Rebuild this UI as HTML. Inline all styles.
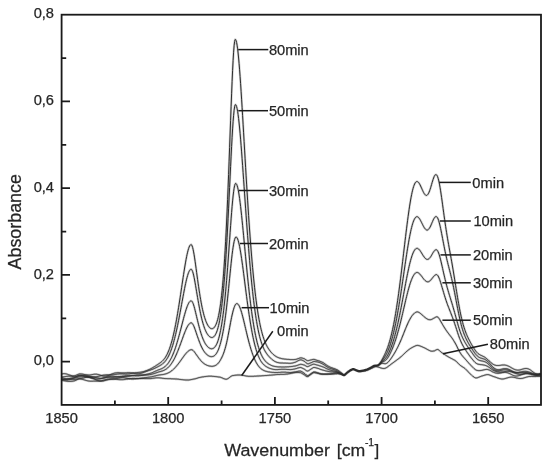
<!DOCTYPE html>
<html><head><meta charset="utf-8"><title>FTIR absorbance spectra</title>
<style>html,body{margin:0;padding:0;background:#fff}body{width:550px;height:468px;overflow:hidden}svg{display:block}</style>
</head><body>
<svg width="550" height="468" viewBox="0 0 550 468">
<rect width="550" height="468" fill="#fff"/>
<g>
<defs>
<path id="c0" d="M61.6,379.1 L62.1,379.2 L62.6,379.3 L63.1,379.5 L63.6,379.6 L64.1,379.7 L64.6,379.7 L65.1,379.8 L65.6,379.8 L66.1,379.8 L66.6,379.8 L67.1,379.8 L67.6,379.8 L68.1,379.7 L68.6,379.7 L69.1,379.6 L69.6,379.6 L70.1,379.6 L70.6,379.5 L71.1,379.5 L71.6,379.5 L72.1,379.4 L72.6,379.4 L73.1,379.4 L73.6,379.4 L74.1,379.5 L74.6,379.4 L75.1,379.4 L75.6,379.3 L76.1,379.3 L76.6,379.1 L77.1,379.0 L77.6,378.9 L78.1,378.8 L78.6,378.7 L79.1,378.6 L79.6,378.6 L80.1,378.5 L80.6,378.5 L81.1,378.4 L81.6,378.4 L82.1,378.3 L82.6,378.2 L83.1,378.1 L83.6,378.0 L84.1,377.8 L84.6,377.7 L85.1,377.6 L85.6,377.5 L86.1,377.4 L86.6,377.3 L87.1,377.3 L87.6,377.2 L88.1,377.2 L88.6,377.2 L89.1,377.3 L89.6,377.3 L90.1,377.4 L90.6,377.6 L91.1,377.7 L91.6,377.9 L92.1,378.0 L92.6,378.2 L93.1,378.4 L93.6,378.7 L94.1,378.9 L94.6,379.1 L95.1,379.4 L95.6,379.6 L96.1,379.8 L96.6,380.1 L97.1,380.2 L97.6,380.4 L98.1,380.5 L98.6,380.7 L99.1,380.7 L99.6,380.8 L100.1,380.8 L100.6,380.8 L101.1,380.8 L101.6,380.7 L102.1,380.6 L102.6,380.5 L103.1,380.4 L103.6,380.2 L104.1,380.1 L104.6,379.9 L105.1,379.8 L105.6,379.6 L106.1,379.5 L106.6,379.4 L107.1,379.3 L107.6,379.2 L108.1,379.2 L108.6,379.1 L109.1,379.1 L109.6,379.1 L110.1,379.1 L110.6,379.1 L111.1,379.1 L111.6,379.1 L112.1,379.1 L112.6,379.1 L113.1,379.1 L113.6,379.0 L114.1,379.0 L114.6,378.9 L115.1,378.9 L115.6,378.8 L116.1,378.7 L116.6,378.6 L117.1,378.5 L117.6,378.4 L118.1,378.3 L118.6,378.2 L119.1,378.1 L119.6,378.0 L120.1,377.9 L120.6,377.8 L121.1,377.8 L121.6,377.7 L122.1,377.7 L122.6,377.7 L123.1,377.7 L123.6,377.7 L124.1,377.8 L124.6,377.8 L125.1,377.9 L125.6,378.0 L126.1,378.1 L126.6,378.2 L127.1,378.3 L127.6,378.4 L128.1,378.5 L128.6,378.6 L129.1,378.7 L129.6,378.8 L130.1,378.8 L130.6,378.9 L131.1,378.9 L131.6,379.0 L132.1,379.0 L132.6,379.0 L133.1,379.0 L133.6,379.0 L134.1,378.9 L134.6,378.9 L135.1,378.9 L135.6,378.8 L136.1,378.8 L136.6,378.7 L137.1,378.7 L137.6,378.7 L138.1,378.6 L138.6,378.6 L139.1,378.6 L139.6,378.5 L140.1,378.5 L140.6,378.5 L141.1,378.5 L141.6,378.5 L142.1,378.5 L142.6,378.5 L143.1,378.5 L143.6,378.5 L144.1,378.5 L144.6,378.6 L145.1,378.6 L145.6,378.6 L146.1,378.6 L146.6,378.6 L147.1,378.6 L147.6,378.6 L148.1,378.6 L148.6,378.6 L149.1,378.6 L149.6,378.6 L150.1,378.6 L150.6,378.6 L151.1,378.5 L151.6,378.5 L152.1,378.4 L152.6,378.3 L153.1,378.3 L153.6,378.2 L154.1,378.1 L154.6,378.1 L155.1,378.0 L155.6,377.9 L156.1,377.9 L156.6,377.8 L157.1,377.8 L157.6,377.8 L158.1,377.8 L158.6,377.8 L159.1,377.8 L159.6,377.9 L160.1,377.9 L160.6,378.0 L161.1,378.1 L161.6,378.1 L162.1,378.2 L162.6,378.3 L163.1,378.3 L163.6,378.4 L164.1,378.5 L164.6,378.5 L165.1,378.5 L165.6,378.6 L166.1,378.6 L166.6,378.6 L167.1,378.6 L167.6,378.7 L168.1,378.7 L168.6,378.7 L169.1,378.7 L169.6,378.7 L170.1,378.7 L170.6,378.7 L171.1,378.8 L171.6,378.8 L172.1,378.8 L172.6,378.8 L173.1,378.8 L173.6,378.9 L174.1,378.9 L174.6,378.9 L175.1,378.9 L175.6,379.0 L176.1,379.0 L176.6,379.0 L177.1,379.1 L177.6,379.1 L178.1,379.2 L178.6,379.2 L179.1,379.3 L179.6,379.4 L180.1,379.4 L180.6,379.5 L181.1,379.6 L181.6,379.6 L182.1,379.7 L182.6,379.7 L183.1,379.8 L183.6,379.8 L184.1,379.9 L184.6,379.9 L185.1,379.9 L185.6,380.0 L186.1,380.0 L186.6,380.0 L187.1,380.0 L187.6,380.0 L188.1,380.0 L188.6,380.0 L189.1,379.9 L189.6,379.9 L190.1,379.8 L190.6,379.7 L191.1,379.6 L191.6,379.5 L192.1,379.4 L192.6,379.3 L193.1,379.2 L193.6,379.1 L194.1,379.0 L194.6,378.9 L195.1,378.8 L195.6,378.7 L196.1,378.5 L196.6,378.4 L197.1,378.2 L197.6,378.1 L198.1,377.9 L198.6,377.7 L199.1,377.6 L199.6,377.5 L200.1,377.4 L200.6,377.3 L201.1,377.2 L201.6,377.1 L202.1,377.0 L202.6,376.9 L203.1,376.9 L203.6,376.8 L204.1,376.7 L204.6,376.6 L205.1,376.6 L205.6,376.5 L206.1,376.4 L206.6,376.4 L207.1,376.3 L207.6,376.3 L208.1,376.3 L208.6,376.2 L209.1,376.2 L209.6,376.2 L210.1,376.2 L210.6,376.2 L211.1,376.2 L211.6,376.2 L212.1,376.3 L212.6,376.3 L213.1,376.3 L213.6,376.4 L214.1,376.4 L214.6,376.5 L215.1,376.5 L215.6,376.6 L216.1,376.6 L216.6,376.7 L217.1,376.8 L217.6,376.8 L218.1,376.9 L218.6,377.0 L219.1,377.0 L219.6,377.1 L220.1,377.2 L220.6,377.3 L221.1,377.5 L221.6,377.7 L222.1,377.9 L222.6,378.1 L223.1,378.4 L223.6,378.6 L224.1,378.8 L224.6,378.9 L225.1,379.1 L225.6,379.2 L226.1,379.2 L226.6,379.2 L227.1,379.0 L227.6,378.8 L228.1,378.5 L228.6,378.2 L229.1,377.8 L229.6,377.4 L230.1,377.0 L230.6,376.6 L231.1,376.3 L231.6,376.0 L232.1,375.8 L232.6,375.6 L233.1,375.5 L233.6,375.5 L234.1,375.4 L234.6,375.3 L235.1,375.3 L235.6,375.2 L236.1,375.2 L236.6,375.1 L237.1,375.1 L237.6,375.0 L238.1,375.0 L238.6,375.0 L239.1,375.0 L239.6,375.0 L240.1,375.0 L240.6,375.1 L241.1,375.1 L241.6,375.2 L242.1,375.3 L242.6,375.3 L243.1,375.4 L243.6,375.5 L244.1,375.6 L244.6,375.7 L245.1,375.8 L245.6,375.9 L246.1,376.0 L246.6,376.1 L247.1,376.2 L247.6,376.2 L248.1,376.3 L248.6,376.3 L249.1,376.3 L249.6,376.3 L250.1,376.3 L250.6,376.3 L251.1,376.3 L251.6,376.3 L252.1,376.3 L252.6,376.3 L253.1,376.3 L253.6,376.3 L254.1,376.2 L254.6,376.2 L255.1,376.2 L255.6,376.2 L256.1,376.1 L256.6,376.1 L257.1,376.1 L257.6,376.0 L258.1,376.0 L258.6,376.0 L259.1,376.0 L259.6,375.9 L260.1,375.9 L260.6,375.9 L261.1,375.8 L261.6,375.8 L262.1,375.8 L262.6,375.7 L263.1,375.7 L263.6,375.7 L264.1,375.6 L264.6,375.6 L265.1,375.6 L265.6,375.5 L266.1,375.5 L266.6,375.5 L267.1,375.4 L267.6,375.4 L268.1,375.4 L268.6,375.3 L269.1,375.3 L269.6,375.2 L270.1,375.2 L270.6,375.2 L271.1,375.1 L271.6,375.1 L272.1,375.0 L272.6,375.0 L273.1,374.9 L273.6,374.9 L274.1,374.8 L274.6,374.8 L275.1,374.7 L275.6,374.7 L276.1,374.6 L276.6,374.6 L277.1,374.6 L277.6,374.5 L278.1,374.5 L278.6,374.5 L279.1,374.5 L279.6,374.5 L280.1,374.4 L280.6,374.4 L281.1,374.4 L281.6,374.4 L282.1,374.4 L282.6,374.4 L283.1,374.4 L283.6,374.4 L284.1,374.3 L284.6,374.3 L285.1,374.3 L285.6,374.2 L286.1,374.2 L286.6,374.1 L287.1,374.1 L287.6,374.0 L288.1,373.9 L288.6,373.8 L289.1,373.7 L289.6,373.7 L290.1,373.6 L290.6,373.5 L291.1,373.4 L291.6,373.2 L292.1,373.1 L292.6,373.0 L293.1,372.9 L293.6,372.8 L294.1,372.7 L294.6,372.7 L295.1,372.6 L295.6,372.6 L296.1,372.6 L296.6,372.5 L297.1,372.5 L297.6,372.5 L298.1,372.5 L298.6,372.5 L299.1,372.5 L299.6,372.6 L300.1,372.6 L300.6,372.7 L301.1,372.9 L301.6,373.2 L302.1,373.5 L302.6,373.8 L303.1,374.1 L303.6,374.4 L304.1,374.7 L304.6,375.0 L305.1,375.4 L305.6,375.8 L306.1,376.2 L306.6,376.5 L307.1,376.6 L307.6,376.6 L308.1,376.5 L308.6,376.2 L309.1,375.8 L309.6,375.4 L310.1,375.0 L310.6,374.6 L311.1,374.3 L311.6,373.9 L312.1,373.5 L312.6,373.2 L313.1,372.9 L313.6,372.7 L314.1,372.6 L314.6,372.7 L315.1,372.8 L315.6,372.9 L316.1,373.0 L316.6,373.1 L317.1,373.3 L317.6,373.4 L318.1,373.5 L318.6,373.6 L319.1,373.7 L319.6,373.9 L320.1,374.0 L320.6,374.1 L321.1,374.2 L321.6,374.2 L322.1,374.2 L322.6,374.2 L323.1,374.2 L323.6,374.2 L324.1,374.2 L324.6,374.2 L325.1,374.2 L325.6,374.2 L326.1,374.2 L326.6,374.2 L327.1,374.2 L327.6,374.2 L328.1,374.2 L328.6,374.2 L329.1,374.2 L329.6,374.2 L330.1,374.2 L330.6,374.2 L331.1,374.2 L331.6,374.2 L332.1,374.1 L332.6,374.1 L333.1,374.1 L333.6,374.0 L334.1,374.0 L334.6,373.9 L335.1,373.9 L335.6,373.8 L336.1,373.8 L336.6,373.8 L337.1,373.7 L337.6,373.7 L338.1,373.8 L338.6,373.8 L339.1,373.9 L339.6,374.0 L340.1,374.1 L340.6,374.2 L341.1,374.2 L341.6,374.4 L342.1,374.6 L342.6,374.8 L343.1,375.0 L343.6,375.1 L344.1,375.2 L344.6,375.0 L345.1,374.6 L345.6,374.1 L346.1,373.7 L346.6,373.2 L347.1,372.8 L347.6,372.3 L348.1,371.9 L348.6,371.5 L349.1,371.1 L349.6,370.8 L350.1,370.5 L350.6,370.2 L351.1,369.9 L351.6,369.7 L352.1,369.5 L352.6,369.3 L353.1,369.2 L353.6,369.2 L354.1,369.3 L354.6,369.5 L355.1,369.7 L355.6,370.0 L356.1,370.2 L356.6,370.4 L357.1,370.6 L357.6,370.8 L358.1,371.0 L358.6,371.1 L359.1,371.2 L359.6,371.2 L360.1,371.2 L360.6,371.1 L361.1,371.0 L361.6,370.9 L362.1,370.8 L362.6,370.7 L363.1,370.6 L363.6,370.5 L364.1,370.4 L364.6,370.2 L365.1,370.1 L365.6,370.0 L366.1,369.8 L366.6,369.7 L367.1,369.5 L367.6,369.3 L368.1,369.1 L368.6,368.8 L369.1,368.6 L369.6,368.3 L370.1,368.1 L370.6,367.8 L371.1,367.6 L371.6,367.3 L372.1,366.9 L372.6,366.6 L373.1,366.3 L373.6,366.0 L374.1,365.8 L374.6,365.7 L375.1,365.7 L375.6,365.6 L376.1,365.6 L376.6,365.5 L377.1,365.5 L377.6,365.3 L378.1,365.1 L378.6,364.7 L379.1,364.2 L379.6,363.6 L380.1,363.0 L380.6,362.2 L381.1,361.4 L381.6,360.5 L382.1,359.6 L382.6,358.6 L383.1,357.7 L383.6,356.7 L384.1,355.7 L384.6,354.7 L385.1,353.6 L385.6,352.5 L386.1,351.3 L386.6,350.1 L387.1,348.8 L387.6,347.5 L388.1,346.1 L388.6,344.6 L389.1,343.0 L389.6,341.3 L390.1,339.6 L390.6,337.7 L391.1,335.8 L391.6,333.8 L392.1,331.6 L392.6,329.4 L393.1,327.0 L393.6,324.6 L394.1,322.0 L394.6,319.3 L395.1,316.5 L395.6,313.5 L396.1,310.5 L396.6,307.3 L397.1,304.0 L397.6,300.7 L398.1,297.2 L398.6,293.6 L399.1,289.9 L399.6,286.1 L400.1,282.2 L400.6,278.2 L401.1,274.2 L401.6,270.1 L402.1,265.9 L402.6,261.7 L403.1,257.5 L403.6,253.2 L404.1,249.0 L404.6,244.8 L405.1,240.5 L405.6,236.4 L406.1,232.2 L406.6,228.2 L407.1,224.2 L407.6,220.3 L408.1,216.6 L408.6,213.0 L409.1,209.5 L409.6,206.1 L410.1,203.0 L410.6,200.0 L411.1,197.2 L411.6,194.7 L412.1,192.3 L412.6,190.2 L413.1,188.3 L413.6,186.6 L414.1,185.2 L414.6,184.0 L415.1,183.0 L415.6,182.3 L416.1,181.8 L416.6,181.6 L417.1,181.5 L417.6,181.7 L418.1,182.0 L418.6,182.5 L419.1,183.2 L419.6,184.0 L420.1,184.9 L420.6,186.0 L421.1,187.1 L421.6,188.2 L422.1,189.3 L422.6,190.4 L423.1,191.5 L423.6,192.5 L424.1,193.4 L424.6,194.1 L425.1,194.7 L425.6,195.2 L426.1,195.4 L426.6,195.4 L427.1,195.2 L427.6,194.7 L428.1,194.1 L428.6,193.2 L429.1,192.1 L429.6,190.8 L430.1,189.3 L430.6,187.8 L431.1,186.1 L431.6,184.4 L432.1,182.6 L432.6,181.0 L433.1,179.4 L433.6,178.0 L434.1,176.7 L434.6,175.7 L435.1,175.0 L435.6,174.6 L436.1,174.6 L436.6,174.9 L437.1,175.6 L437.6,176.7 L438.1,178.2 L438.6,180.1 L439.1,182.3 L439.6,184.9 L440.1,187.7 L440.6,190.8 L441.1,194.1 L441.6,197.6 L442.1,201.1 L442.6,204.8 L443.1,208.5 L443.6,212.2 L444.1,215.8 L444.6,219.4 L445.1,222.9 L445.6,226.3 L446.1,229.5 L446.6,232.7 L447.1,235.8 L447.6,238.8 L448.1,241.7 L448.6,244.5 L449.1,247.3 L449.6,250.1 L450.1,252.8 L450.6,255.6 L451.1,258.4 L451.6,261.2 L452.1,264.0 L452.6,267.0 L453.1,269.9 L453.6,273.0 L454.1,276.0 L454.6,279.1 L455.1,282.2 L455.6,285.4 L456.1,288.5 L456.6,291.6 L457.1,294.6 L457.6,297.7 L458.1,300.6 L458.6,303.5 L459.1,306.2 L459.6,308.9 L460.1,311.4 L460.6,313.9 L461.1,316.2 L461.6,318.4 L462.1,320.5 L462.6,322.4 L463.1,324.3 L463.6,326.0 L464.1,327.6 L464.6,329.2 L465.1,330.6 L465.6,332.0 L466.1,333.3 L466.6,334.5 L467.1,335.7 L467.6,336.8 L468.1,337.8 L468.6,338.9 L469.1,339.9 L469.6,340.8 L470.1,341.8 L470.6,342.7 L471.1,343.6 L471.6,344.5 L472.1,345.3 L472.6,346.2 L473.1,347.0 L473.6,347.8 L474.1,348.6 L474.6,349.4 L475.1,350.1 L475.6,350.8 L476.1,351.5 L476.6,352.1 L477.1,352.6 L477.6,353.1 L478.1,353.6 L478.6,354.0 L479.1,354.3 L479.6,354.6 L480.1,354.9 L480.6,355.2 L481.1,355.4 L481.6,355.6 L482.1,355.9 L482.6,356.1 L483.1,356.3 L483.6,356.6 L484.1,356.8 L484.6,357.1 L485.1,357.5 L485.6,357.8 L486.1,358.2 L486.6,358.6 L487.1,359.0 L487.6,359.5 L488.1,359.9 L488.6,360.4 L489.1,360.9 L489.6,361.3 L490.1,361.8 L490.6,362.3 L491.1,362.7 L491.6,363.1 L492.1,363.5 L492.6,363.9 L493.1,364.2 L493.6,364.5 L494.1,364.7 L494.6,365.0 L495.1,365.1 L495.6,365.3 L496.1,365.4 L496.6,365.5 L497.1,365.5 L497.6,365.5 L498.1,365.5 L498.6,365.5 L499.1,365.5 L499.6,365.4 L500.1,365.3 L500.6,365.3 L501.1,365.2 L501.6,365.1 L502.1,365.1 L502.6,365.0 L503.1,365.0 L503.6,365.0 L504.1,365.0 L504.6,365.0 L505.1,365.1 L505.6,365.2 L506.1,365.3 L506.6,365.4 L507.1,365.6 L507.6,365.8 L508.1,366.0 L508.6,366.2 L509.1,366.4 L509.6,366.7 L510.1,367.0 L510.6,367.3 L511.1,367.6 L511.6,367.9 L512.1,368.2 L512.6,368.4 L513.1,368.7 L513.6,369.0 L514.1,369.2 L514.6,369.4 L515.1,369.6 L515.6,369.8 L516.1,369.9 L516.6,370.0 L517.1,370.1 L517.6,370.1 L518.1,370.1 L518.6,370.1 L519.1,370.0 L519.6,370.0 L520.1,369.9 L520.6,369.7 L521.1,369.6 L521.6,369.4 L522.1,369.3 L522.6,369.1 L523.1,369.0 L523.6,368.8 L524.1,368.7 L524.6,368.6 L525.1,368.5 L525.6,368.5 L526.1,368.5 L526.6,368.5 L527.1,368.6 L527.6,368.7 L528.1,368.8 L528.6,369.0 L529.1,369.2 L529.6,369.5 L530.1,369.8 L530.6,370.1 L531.1,370.5 L531.6,370.9 L532.1,371.3 L532.6,371.6 L533.1,372.0 L533.6,372.4 L534.1,372.8 L534.6,373.1 L535.1,373.4 L535.6,373.7 L536.1,373.9 L536.6,374.1 L537.1,374.2 L537.6,374.3 L538.1,374.4 L538.6,374.3 L539.1,374.3 L539.6,374.1 L540.1,374.0 L540.6,373.8"/>
<path id="c10" d="M61.6,380.4 L62.1,380.5 L62.6,380.5 L63.1,380.6 L63.6,380.7 L64.1,380.8 L64.6,380.8 L65.1,380.9 L65.6,381.0 L66.1,381.1 L66.6,381.2 L67.1,381.2 L67.6,381.3 L68.1,381.3 L68.6,381.4 L69.1,381.4 L69.6,381.4 L70.1,381.4 L70.6,381.4 L71.1,381.4 L71.6,381.3 L72.1,381.3 L72.6,381.2 L73.1,381.1 L73.6,381.0 L74.1,380.9 L74.6,380.8 L75.1,380.6 L75.6,380.4 L76.1,380.1 L76.6,379.9 L77.1,379.7 L77.6,379.4 L78.1,379.2 L78.6,379.1 L79.1,379.0 L79.6,378.9 L80.1,378.9 L80.6,379.0 L81.1,379.1 L81.6,379.2 L82.1,379.3 L82.6,379.4 L83.1,379.5 L83.6,379.7 L84.1,379.8 L84.6,380.0 L85.1,380.1 L85.6,380.3 L86.1,380.4 L86.6,380.6 L87.1,380.7 L87.6,380.8 L88.1,380.9 L88.6,381.0 L89.1,381.1 L89.6,381.1 L90.1,381.2 L90.6,381.2 L91.1,381.2 L91.6,381.2 L92.1,381.2 L92.6,381.2 L93.1,381.1 L93.6,381.1 L94.1,381.1 L94.6,381.1 L95.1,381.1 L95.6,381.1 L96.1,381.1 L96.6,381.1 L97.1,381.1 L97.6,381.1 L98.1,381.1 L98.6,381.1 L99.1,381.1 L99.6,381.2 L100.1,381.2 L100.6,381.2 L101.1,381.2 L101.6,381.1 L102.1,381.1 L102.6,381.0 L103.1,381.0 L103.6,380.9 L104.1,380.8 L104.6,380.6 L105.1,380.5 L105.6,380.4 L106.1,380.2 L106.6,380.1 L107.1,380.0 L107.6,379.8 L108.1,379.7 L108.6,379.6 L109.1,379.5 L109.6,379.4 L110.1,379.3 L110.6,379.2 L111.1,379.2 L111.6,379.1 L112.1,379.1 L112.6,379.0 L113.1,379.0 L113.6,379.0 L114.1,379.1 L114.6,379.1 L115.1,379.1 L115.6,379.2 L116.1,379.3 L116.6,379.3 L117.1,379.4 L117.6,379.5 L118.1,379.5 L118.6,379.6 L119.1,379.6 L119.6,379.7 L120.1,379.7 L120.6,379.7 L121.1,379.7 L121.6,379.7 L122.1,379.7 L122.6,379.7 L123.1,379.7 L123.6,379.6 L124.1,379.5 L124.6,379.5 L125.1,379.4 L125.6,379.3 L126.1,379.2 L126.6,379.1 L127.1,379.1 L127.6,379.0 L128.1,378.9 L128.6,378.8 L129.1,378.7 L129.6,378.7 L130.1,378.6 L130.6,378.5 L131.1,378.5 L131.6,378.5 L132.1,378.4 L132.6,378.4 L133.1,378.4 L133.6,378.4 L134.1,378.4 L134.6,378.4 L135.1,378.5 L135.6,378.5 L136.1,378.5 L136.6,378.5 L137.1,378.5 L137.6,378.5 L138.1,378.5 L138.6,378.5 L139.1,378.4 L139.6,378.4 L140.1,378.3 L140.6,378.3 L141.1,378.2 L141.6,378.2 L142.1,378.1 L142.6,378.0 L143.1,378.0 L143.6,377.9 L144.1,377.8 L144.6,377.7 L145.1,377.7 L145.6,377.6 L146.1,377.5 L146.6,377.5 L147.1,377.4 L147.6,377.3 L148.1,377.3 L148.6,377.2 L149.1,377.1 L149.6,377.1 L150.1,377.0 L150.6,376.9 L151.1,376.8 L151.6,376.8 L152.1,376.6 L152.6,376.5 L153.1,376.4 L153.6,376.3 L154.1,376.2 L154.6,376.0 L155.1,375.9 L155.6,375.8 L156.1,375.6 L156.6,375.5 L157.1,375.4 L157.6,375.3 L158.1,375.2 L158.6,375.1 L159.1,375.0 L159.6,374.9 L160.1,374.8 L160.6,374.8 L161.1,374.7 L161.6,374.7 L162.1,374.6 L162.6,374.6 L163.1,374.5 L163.6,374.4 L164.1,374.3 L164.6,374.2 L165.1,374.1 L165.6,373.9 L166.1,373.8 L166.6,373.6 L167.1,373.4 L167.6,373.2 L168.1,373.0 L168.6,372.7 L169.1,372.5 L169.6,372.2 L170.1,371.9 L170.6,371.6 L171.1,371.2 L171.6,370.8 L172.1,370.5 L172.6,370.0 L173.1,369.6 L173.6,369.2 L174.1,368.7 L174.6,368.2 L175.1,367.6 L175.6,367.1 L176.1,366.5 L176.6,365.9 L177.1,365.3 L177.6,364.7 L178.1,364.1 L178.6,363.4 L179.1,362.8 L179.6,362.1 L180.1,361.4 L180.6,360.7 L181.1,360.0 L181.6,359.3 L182.1,358.6 L182.6,357.9 L183.1,357.2 L183.6,356.5 L184.1,355.8 L184.6,355.1 L185.1,354.5 L185.6,353.9 L186.1,353.3 L186.6,352.7 L187.1,352.2 L187.6,351.7 L188.1,351.3 L188.6,350.9 L189.1,350.5 L189.6,350.2 L190.1,350.0 L190.6,349.8 L191.1,349.7 L191.6,349.7 L192.1,349.9 L192.6,350.1 L193.1,350.5 L193.6,351.0 L194.1,351.5 L194.6,352.2 L195.1,352.9 L195.6,353.6 L196.1,354.3 L196.6,355.0 L197.1,355.7 L197.6,356.4 L198.1,357.1 L198.6,357.8 L199.1,358.5 L199.6,359.1 L200.1,359.7 L200.6,360.4 L201.1,360.9 L201.6,361.5 L202.1,362.0 L202.6,362.4 L203.1,362.9 L203.6,363.3 L204.1,363.6 L204.6,364.0 L205.1,364.3 L205.6,364.6 L206.1,364.8 L206.6,365.1 L207.1,365.3 L207.6,365.5 L208.1,365.7 L208.6,365.8 L209.1,365.9 L209.6,366.1 L210.1,366.2 L210.6,366.2 L211.1,366.3 L211.6,366.3 L212.1,366.3 L212.6,366.3 L213.1,366.2 L213.6,366.1 L214.1,366.0 L214.6,365.8 L215.1,365.6 L215.6,365.4 L216.1,365.1 L216.6,364.7 L217.1,364.3 L217.6,363.9 L218.1,363.4 L218.6,362.8 L219.1,362.1 L219.6,361.4 L220.1,360.6 L220.6,359.7 L221.1,358.8 L221.6,357.9 L222.1,356.8 L222.6,355.7 L223.1,354.5 L223.6,353.2 L224.1,351.8 L224.6,350.2 L225.1,348.6 L225.6,346.8 L226.1,344.9 L226.6,342.8 L227.1,340.6 L227.6,338.2 L228.1,335.6 L228.6,333.0 L229.1,330.4 L229.6,327.7 L230.1,325.0 L230.6,322.3 L231.1,319.8 L231.6,317.3 L232.1,315.0 L232.6,312.9 L233.1,310.9 L233.6,309.2 L234.1,307.6 L234.6,306.3 L235.1,305.2 L235.6,304.4 L236.1,303.9 L236.6,303.6 L237.1,303.6 L237.6,303.9 L238.1,304.3 L238.6,304.9 L239.1,305.8 L239.6,306.8 L240.1,308.0 L240.6,309.4 L241.1,310.9 L241.6,312.5 L242.1,314.3 L242.6,316.2 L243.1,318.1 L243.6,320.2 L244.1,322.2 L244.6,324.3 L245.1,326.5 L245.6,328.6 L246.1,330.7 L246.6,332.8 L247.1,334.9 L247.6,337.0 L248.1,338.9 L248.6,340.9 L249.1,342.8 L249.6,344.6 L250.1,346.3 L250.6,348.0 L251.1,349.7 L251.6,351.2 L252.1,352.7 L252.6,354.2 L253.1,355.5 L253.6,356.8 L254.1,358.1 L254.6,359.2 L255.1,360.3 L255.6,361.3 L256.1,362.3 L256.6,363.2 L257.1,364.0 L257.6,364.8 L258.1,365.5 L258.6,366.2 L259.1,366.8 L259.6,367.4 L260.1,367.9 L260.6,368.4 L261.1,368.8 L261.6,369.2 L262.1,369.5 L262.6,369.8 L263.1,370.1 L263.6,370.4 L264.1,370.6 L264.6,370.8 L265.1,371.0 L265.6,371.2 L266.1,371.3 L266.6,371.4 L267.1,371.6 L267.6,371.7 L268.1,371.8 L268.6,371.9 L269.1,371.9 L269.6,372.0 L270.1,372.1 L270.6,372.2 L271.1,372.2 L271.6,372.3 L272.1,372.3 L272.6,372.4 L273.1,372.4 L273.6,372.4 L274.1,372.5 L274.6,372.5 L275.1,372.5 L275.6,372.5 L276.1,372.5 L276.6,372.5 L277.1,372.5 L277.6,372.5 L278.1,372.4 L278.6,372.4 L279.1,372.4 L279.6,372.4 L280.1,372.3 L280.6,372.3 L281.1,372.3 L281.6,372.2 L282.1,372.2 L282.6,372.2 L283.1,372.2 L283.6,372.2 L284.1,372.2 L284.6,372.2 L285.1,372.2 L285.6,372.2 L286.1,372.3 L286.6,372.3 L287.1,372.3 L287.6,372.4 L288.1,372.4 L288.6,372.4 L289.1,372.5 L289.6,372.5 L290.1,372.5 L290.6,372.5 L291.1,372.5 L291.6,372.4 L292.1,372.4 L292.6,372.3 L293.1,372.2 L293.6,372.2 L294.1,372.1 L294.6,372.0 L295.1,371.9 L295.6,371.8 L296.1,371.7 L296.6,371.6 L297.1,371.5 L297.6,371.4 L298.1,371.3 L298.6,371.2 L299.1,371.1 L299.6,371.1 L300.1,371.1 L300.6,371.1 L301.1,371.3 L301.6,371.5 L302.1,371.8 L302.6,372.1 L303.1,372.4 L303.6,372.8 L304.1,373.1 L304.6,373.5 L305.1,373.9 L305.6,374.4 L306.1,374.9 L306.6,375.2 L307.1,375.5 L307.6,375.6 L308.1,375.5 L308.6,375.3 L309.1,375.0 L309.6,374.6 L310.1,374.2 L310.6,373.9 L311.1,373.6 L311.6,373.2 L312.1,372.9 L312.6,372.5 L313.1,372.2 L313.6,372.0 L314.1,371.9 L314.6,372.0 L315.1,372.0 L315.6,372.1 L316.1,372.3 L316.6,372.4 L317.1,372.6 L317.6,372.7 L318.1,372.8 L318.6,373.0 L319.1,373.2 L319.6,373.4 L320.1,373.5 L320.6,373.7 L321.1,373.8 L321.6,373.9 L322.1,374.0 L322.6,374.0 L323.1,374.1 L323.6,374.1 L324.1,374.1 L324.6,374.1 L325.1,374.1 L325.6,374.1 L326.1,374.1 L326.6,374.1 L327.1,374.0 L327.6,374.0 L328.1,374.0 L328.6,373.9 L329.1,373.9 L329.6,373.9 L330.1,373.8 L330.6,373.8 L331.1,373.7 L331.6,373.6 L332.1,373.6 L332.6,373.5 L333.1,373.4 L333.6,373.3 L334.1,373.3 L334.6,373.2 L335.1,373.2 L335.6,373.1 L336.1,373.1 L336.6,373.1 L337.1,373.1 L337.6,373.1 L338.1,373.2 L338.6,373.2 L339.1,373.3 L339.6,373.5 L340.1,373.6 L340.6,373.7 L341.1,373.8 L341.6,374.0 L342.1,374.3 L342.6,374.5 L343.1,374.7 L343.6,374.9 L344.1,375.0 L344.6,374.8 L345.1,374.5 L345.6,374.0 L346.1,373.6 L346.6,373.2 L347.1,372.8 L347.6,372.3 L348.1,371.9 L348.6,371.5 L349.1,371.1 L349.6,370.8 L350.1,370.5 L350.6,370.2 L351.1,369.9 L351.6,369.7 L352.1,369.5 L352.6,369.3 L353.1,369.2 L353.6,369.2 L354.1,369.3 L354.6,369.5 L355.1,369.7 L355.6,370.0 L356.1,370.3 L356.6,370.4 L357.1,370.6 L357.6,370.8 L358.1,371.0 L358.6,371.1 L359.1,371.2 L359.6,371.2 L360.1,371.2 L360.6,371.1 L361.1,371.0 L361.6,370.9 L362.1,370.8 L362.6,370.7 L363.1,370.6 L363.6,370.5 L364.1,370.4 L364.6,370.3 L365.1,370.1 L365.6,370.0 L366.1,369.8 L366.6,369.7 L367.1,369.5 L367.6,369.3 L368.1,369.1 L368.6,368.8 L369.1,368.6 L369.6,368.3 L370.1,368.1 L370.6,367.8 L371.1,367.6 L371.6,367.3 L372.1,367.0 L372.6,366.6 L373.1,366.3 L373.6,366.0 L374.1,365.8 L374.6,365.7 L375.1,365.7 L375.6,365.6 L376.1,365.6 L376.6,365.6 L377.1,365.5 L377.6,365.4 L378.1,365.2 L378.6,364.9 L379.1,364.4 L379.6,363.9 L380.1,363.3 L380.6,362.7 L381.1,362.0 L381.6,361.3 L382.1,360.6 L382.6,359.9 L383.1,359.2 L383.6,358.5 L384.1,357.8 L384.6,357.1 L385.1,356.3 L385.6,355.5 L386.1,354.6 L386.6,353.7 L387.1,352.7 L387.6,351.6 L388.1,350.4 L388.6,349.2 L389.1,347.9 L389.6,346.5 L390.1,345.0 L390.6,343.5 L391.1,341.9 L391.6,340.2 L392.1,338.4 L392.6,336.6 L393.1,334.7 L393.6,332.6 L394.1,330.5 L394.6,328.3 L395.1,326.0 L395.6,323.7 L396.1,321.2 L396.6,318.6 L397.1,316.0 L397.6,313.2 L398.1,310.4 L398.6,307.5 L399.1,304.5 L399.6,301.4 L400.1,298.3 L400.6,295.1 L401.1,291.8 L401.6,288.5 L402.1,285.1 L402.6,281.7 L403.1,278.3 L403.6,274.9 L404.1,271.4 L404.6,268.0 L405.1,264.6 L405.6,261.2 L406.1,257.9 L406.6,254.6 L407.1,251.3 L407.6,248.2 L408.1,245.2 L408.6,242.2 L409.1,239.4 L409.6,236.7 L410.1,234.2 L410.6,231.8 L411.1,229.5 L411.6,227.5 L412.1,225.6 L412.6,223.8 L413.1,222.3 L413.6,220.9 L414.1,219.8 L414.6,218.8 L415.1,218.0 L415.6,217.4 L416.1,217.0 L416.6,216.7 L417.1,216.7 L417.6,216.8 L418.1,217.1 L418.6,217.6 L419.1,218.2 L419.6,218.9 L420.1,219.7 L420.6,220.6 L421.1,221.6 L421.6,222.6 L422.1,223.6 L422.6,224.6 L423.1,225.6 L423.6,226.5 L424.1,227.4 L424.6,228.1 L425.1,228.8 L425.6,229.3 L426.1,229.7 L426.6,230.0 L427.1,230.1 L427.6,230.0 L428.1,229.7 L428.6,229.2 L429.1,228.6 L429.6,227.9 L430.1,227.0 L430.6,226.0 L431.1,224.9 L431.6,223.7 L432.1,222.5 L432.6,221.4 L433.1,220.2 L433.6,219.2 L434.1,218.3 L434.6,217.6 L435.1,217.0 L435.6,216.6 L436.1,216.5 L436.6,216.7 L437.1,217.2 L437.6,217.9 L438.1,219.0 L438.6,220.4 L439.1,222.1 L439.6,224.0 L440.1,226.1 L440.6,228.4 L441.1,230.8 L441.6,233.4 L442.1,235.9 L442.6,238.6 L443.1,241.2 L443.6,243.8 L444.1,246.4 L444.6,248.9 L445.1,251.4 L445.6,253.8 L446.1,256.0 L446.6,258.3 L447.1,260.4 L447.6,262.4 L448.1,264.5 L448.6,266.4 L449.1,268.4 L449.6,270.3 L450.1,272.3 L450.6,274.3 L451.1,276.3 L451.6,278.5 L452.1,280.6 L452.6,282.9 L453.1,285.2 L453.6,287.6 L454.1,290.1 L454.6,292.6 L455.1,295.2 L455.6,297.8 L456.1,300.5 L456.6,303.1 L457.1,305.8 L457.6,308.4 L458.1,310.9 L458.6,313.4 L459.1,315.8 L459.6,318.1 L460.1,320.3 L460.6,322.4 L461.1,324.4 L461.6,326.3 L462.1,328.1 L462.6,329.7 L463.1,331.3 L463.6,332.7 L464.1,334.1 L464.6,335.3 L465.1,336.5 L465.6,337.7 L466.1,338.8 L466.6,339.8 L467.1,340.8 L467.6,341.7 L468.1,342.6 L468.6,343.5 L469.1,344.3 L469.6,345.2 L470.1,346.0 L470.6,346.7 L471.1,347.5 L471.6,348.3 L472.1,349.1 L472.6,349.8 L473.1,350.6 L473.6,351.3 L474.1,352.1 L474.6,352.8 L475.1,353.5 L475.6,354.1 L476.1,354.7 L476.6,355.3 L477.1,355.8 L477.6,356.2 L478.1,356.6 L478.6,357.0 L479.1,357.3 L479.6,357.6 L480.1,357.8 L480.6,358.0 L481.1,358.1 L481.6,358.3 L482.1,358.5 L482.6,358.6 L483.1,358.8 L483.6,358.9 L484.1,359.1 L484.6,359.3 L485.1,359.6 L485.6,359.8 L486.1,360.2 L486.6,360.5 L487.1,360.9 L487.6,361.3 L488.1,361.8 L488.6,362.3 L489.1,362.8 L489.6,363.4 L490.1,363.9 L490.6,364.5 L491.1,365.1 L491.6,365.6 L492.1,366.2 L492.6,366.7 L493.1,367.2 L493.6,367.6 L494.1,368.1 L494.6,368.4 L495.1,368.7 L495.6,369.0 L496.1,369.2 L496.6,369.4 L497.1,369.6 L497.6,369.6 L498.1,369.7 L498.6,369.7 L499.1,369.7 L499.6,369.6 L500.1,369.5 L500.6,369.4 L501.1,369.3 L501.6,369.2 L502.1,369.1 L502.6,368.9 L503.1,368.8 L503.6,368.7 L504.1,368.7 L504.6,368.6 L505.1,368.6 L505.6,368.6 L506.1,368.6 L506.6,368.7 L507.1,368.8 L507.6,368.9 L508.1,369.1 L508.6,369.3 L509.1,369.5 L509.6,369.7 L510.1,370.0 L510.6,370.2 L511.1,370.5 L511.6,370.8 L512.1,371.0 L512.6,371.3 L513.1,371.5 L513.6,371.7 L514.1,371.9 L514.6,372.1 L515.1,372.2 L515.6,372.3 L516.1,372.4 L516.6,372.5 L517.1,372.5 L517.6,372.5 L518.1,372.5 L518.6,372.4 L519.1,372.3 L519.6,372.2 L520.1,372.1 L520.6,372.0 L521.1,371.9 L521.6,371.8 L522.1,371.7 L522.6,371.6 L523.1,371.5 L523.6,371.4 L524.1,371.4 L524.6,371.3 L525.1,371.3 L525.6,371.3 L526.1,371.4 L526.6,371.4 L527.1,371.5 L527.6,371.6 L528.1,371.8 L528.6,371.9 L529.1,372.1 L529.6,372.2 L530.1,372.4 L530.6,372.6 L531.1,372.8 L531.6,373.0 L532.1,373.2 L532.6,373.3 L533.1,373.5 L533.6,373.6 L534.1,373.7 L534.6,373.8 L535.1,373.9 L535.6,374.0 L536.1,374.0 L536.6,374.0 L537.1,374.0 L537.6,374.0 L538.1,373.9 L538.6,373.9 L539.1,373.8 L539.6,373.7 L540.1,373.7 L540.6,373.6"/>
<path id="c20" d="M61.6,377.8 L62.1,377.9 L62.6,378.0 L63.1,378.1 L63.6,378.3 L64.1,378.4 L64.6,378.5 L65.1,378.6 L65.6,378.7 L66.1,378.8 L66.6,378.9 L67.1,379.0 L67.6,379.0 L68.1,379.0 L68.6,379.0 L69.1,379.0 L69.6,379.0 L70.1,378.9 L70.6,378.8 L71.1,378.7 L71.6,378.6 L72.1,378.4 L72.6,378.3 L73.1,378.1 L73.6,378.0 L74.1,377.8 L74.6,377.6 L75.1,377.3 L75.6,377.0 L76.1,376.8 L76.6,376.5 L77.1,376.2 L77.6,376.0 L78.1,375.8 L78.6,375.6 L79.1,375.5 L79.6,375.4 L80.1,375.4 L80.6,375.4 L81.1,375.5 L81.6,375.5 L82.1,375.6 L82.6,375.7 L83.1,375.8 L83.6,375.9 L84.1,376.1 L84.6,376.2 L85.1,376.3 L85.6,376.4 L86.1,376.5 L86.6,376.6 L87.1,376.7 L87.6,376.7 L88.1,376.8 L88.6,376.9 L89.1,376.9 L89.6,377.0 L90.1,377.0 L90.6,377.0 L91.1,377.1 L91.6,377.1 L92.1,377.1 L92.6,377.1 L93.1,377.2 L93.6,377.2 L94.1,377.3 L94.6,377.3 L95.1,377.4 L95.6,377.5 L96.1,377.6 L96.6,377.7 L97.1,377.8 L97.6,377.9 L98.1,378.0 L98.6,378.1 L99.1,378.2 L99.6,378.3 L100.1,378.3 L100.6,378.4 L101.1,378.4 L101.6,378.4 L102.1,378.4 L102.6,378.3 L103.1,378.2 L103.6,378.1 L104.1,378.0 L104.6,377.9 L105.1,377.8 L105.6,377.6 L106.1,377.5 L106.6,377.3 L107.1,377.1 L107.6,377.0 L108.1,376.9 L108.6,376.8 L109.1,376.7 L109.6,376.6 L110.1,376.5 L110.6,376.4 L111.1,376.4 L111.6,376.3 L112.1,376.3 L112.6,376.3 L113.1,376.3 L113.6,376.4 L114.1,376.4 L114.6,376.5 L115.1,376.5 L115.6,376.6 L116.1,376.7 L116.6,376.7 L117.1,376.8 L117.6,376.8 L118.1,376.9 L118.6,376.9 L119.1,376.9 L119.6,377.0 L120.1,377.0 L120.6,376.9 L121.1,376.9 L121.6,376.9 L122.1,376.8 L122.6,376.7 L123.1,376.7 L123.6,376.6 L124.1,376.5 L124.6,376.4 L125.1,376.3 L125.6,376.2 L126.1,376.2 L126.6,376.1 L127.1,376.0 L127.6,375.9 L128.1,375.9 L128.6,375.8 L129.1,375.8 L129.6,375.7 L130.1,375.7 L130.6,375.6 L131.1,375.6 L131.6,375.6 L132.1,375.6 L132.6,375.6 L133.1,375.7 L133.6,375.7 L134.1,375.7 L134.6,375.7 L135.1,375.8 L135.6,375.8 L136.1,375.8 L136.6,375.8 L137.1,375.8 L137.6,375.8 L138.1,375.8 L138.6,375.8 L139.1,375.7 L139.6,375.7 L140.1,375.7 L140.6,375.6 L141.1,375.6 L141.6,375.5 L142.1,375.5 L142.6,375.4 L143.1,375.4 L143.6,375.3 L144.1,375.2 L144.6,375.2 L145.1,375.1 L145.6,375.1 L146.1,375.0 L146.6,375.0 L147.1,374.9 L147.6,374.9 L148.1,374.8 L148.6,374.8 L149.1,374.7 L149.6,374.7 L150.1,374.6 L150.6,374.5 L151.1,374.4 L151.6,374.3 L152.1,374.2 L152.6,374.0 L153.1,373.9 L153.6,373.7 L154.1,373.6 L154.6,373.4 L155.1,373.2 L155.6,373.1 L156.1,372.9 L156.6,372.7 L157.1,372.5 L157.6,372.4 L158.1,372.2 L158.6,372.0 L159.1,371.9 L159.6,371.7 L160.1,371.6 L160.6,371.5 L161.1,371.3 L161.6,371.2 L162.1,371.0 L162.6,370.9 L163.1,370.7 L163.6,370.5 L164.1,370.3 L164.6,370.0 L165.1,369.7 L165.6,369.4 L166.1,369.1 L166.6,368.8 L167.1,368.4 L167.6,368.0 L168.1,367.5 L168.6,367.0 L169.1,366.5 L169.6,366.0 L170.1,365.4 L170.6,364.7 L171.1,364.1 L171.6,363.4 L172.1,362.6 L172.6,361.8 L173.1,361.0 L173.6,360.1 L174.1,359.2 L174.6,358.2 L175.1,357.2 L175.6,356.1 L176.1,355.0 L176.6,353.9 L177.1,352.7 L177.6,351.5 L178.1,350.3 L178.6,349.0 L179.1,347.7 L179.6,346.4 L180.1,345.0 L180.6,343.7 L181.1,342.3 L181.6,340.9 L182.1,339.6 L182.6,338.2 L183.1,336.8 L183.6,335.4 L184.1,334.1 L184.6,332.8 L185.1,331.6 L185.6,330.4 L186.1,329.2 L186.6,328.1 L187.1,327.1 L187.6,326.2 L188.1,325.4 L188.6,324.7 L189.1,324.1 L189.6,323.6 L190.1,323.2 L190.6,322.9 L191.1,322.8 L191.6,322.9 L192.1,323.3 L192.6,323.9 L193.1,324.7 L193.6,325.6 L194.1,326.8 L194.6,328.1 L195.1,329.5 L195.6,330.9 L196.1,332.4 L196.6,333.9 L197.1,335.4 L197.6,336.8 L198.1,338.2 L198.6,339.6 L199.1,341.0 L199.6,342.3 L200.1,343.6 L200.6,344.8 L201.1,346.0 L201.6,347.0 L202.1,348.0 L202.6,349.0 L203.1,349.9 L203.6,350.7 L204.1,351.4 L204.6,352.1 L205.1,352.8 L205.6,353.3 L206.1,353.9 L206.6,354.3 L207.1,354.8 L207.6,355.2 L208.1,355.5 L208.6,355.8 L209.1,356.1 L209.6,356.3 L210.1,356.4 L210.6,356.6 L211.1,356.6 L211.6,356.7 L212.1,356.6 L212.6,356.5 L213.1,356.4 L213.6,356.2 L214.1,355.9 L214.6,355.5 L215.1,355.1 L215.6,354.5 L216.1,353.9 L216.6,353.2 L217.1,352.3 L217.6,351.4 L218.1,350.3 L218.6,349.1 L219.1,347.7 L219.6,346.2 L220.1,344.6 L220.6,342.8 L221.1,340.9 L221.6,338.8 L222.1,336.6 L222.6,334.1 L223.1,331.5 L223.6,328.7 L224.1,325.7 L224.6,322.4 L225.1,318.9 L225.6,315.2 L226.1,311.3 L226.6,307.1 L227.1,302.7 L227.6,298.1 L228.1,293.3 L228.6,288.4 L229.1,283.3 L229.6,278.3 L230.1,273.2 L230.6,268.3 L231.1,263.5 L231.6,258.9 L232.1,254.6 L232.6,250.7 L233.1,247.2 L233.6,244.2 L234.1,241.6 L234.6,239.5 L235.1,238.1 L235.6,237.2 L236.1,237.0 L236.6,237.3 L237.1,237.9 L237.6,238.9 L238.1,240.3 L238.6,242.1 L239.1,244.1 L239.6,246.5 L240.1,249.2 L240.6,252.1 L241.1,255.2 L241.6,258.6 L242.1,262.1 L242.6,265.7 L243.1,269.4 L243.6,273.3 L244.1,277.1 L244.6,281.1 L245.1,285.0 L245.6,288.9 L246.1,292.8 L246.6,296.6 L247.1,300.4 L247.6,304.1 L248.1,307.7 L248.6,311.2 L249.1,314.6 L249.6,317.8 L250.1,321.0 L250.6,324.1 L251.1,327.0 L251.6,329.8 L252.1,332.5 L252.6,335.1 L253.1,337.5 L253.6,339.8 L254.1,342.0 L254.6,344.1 L255.1,346.0 L255.6,347.8 L256.1,349.6 L256.6,351.2 L257.1,352.7 L257.6,354.1 L258.1,355.4 L258.6,356.6 L259.1,357.7 L259.6,358.8 L260.1,359.7 L260.6,360.6 L261.1,361.4 L261.6,362.1 L262.1,362.8 L262.6,363.4 L263.1,364.0 L263.6,364.5 L264.1,365.0 L264.6,365.4 L265.1,365.8 L265.6,366.2 L266.1,366.5 L266.6,366.8 L267.1,367.1 L267.6,367.4 L268.1,367.6 L268.6,367.9 L269.1,368.1 L269.6,368.3 L270.1,368.5 L270.6,368.6 L271.1,368.8 L271.6,368.9 L272.1,369.1 L272.6,369.2 L273.1,369.3 L273.6,369.4 L274.1,369.5 L274.6,369.5 L275.1,369.6 L275.6,369.6 L276.1,369.6 L276.6,369.6 L277.1,369.6 L277.6,369.6 L278.1,369.5 L278.6,369.5 L279.1,369.5 L279.6,369.4 L280.1,369.4 L280.6,369.4 L281.1,369.3 L281.6,369.3 L282.1,369.3 L282.6,369.3 L283.1,369.3 L283.6,369.3 L284.1,369.3 L284.6,369.3 L285.1,369.3 L285.6,369.3 L286.1,369.4 L286.6,369.4 L287.1,369.4 L287.6,369.5 L288.1,369.5 L288.6,369.5 L289.1,369.5 L289.6,369.6 L290.1,369.6 L290.6,369.6 L291.1,369.5 L291.6,369.5 L292.1,369.4 L292.6,369.4 L293.1,369.3 L293.6,369.2 L294.1,369.1 L294.6,369.0 L295.1,368.9 L295.6,368.7 L296.1,368.6 L296.6,368.5 L297.1,368.3 L297.6,368.1 L298.1,368.0 L298.6,367.8 L299.1,367.7 L299.6,367.6 L300.1,367.5 L300.6,367.5 L301.1,367.6 L301.6,367.8 L302.1,368.0 L302.6,368.3 L303.1,368.5 L303.6,368.8 L304.1,369.0 L304.6,369.3 L305.1,369.7 L305.6,370.1 L306.1,370.5 L306.6,370.8 L307.1,371.0 L307.6,371.0 L308.1,370.9 L308.6,370.7 L309.1,370.4 L309.6,370.0 L310.1,369.7 L310.6,369.3 L311.1,369.0 L311.6,368.7 L312.1,368.4 L312.6,368.0 L313.1,367.7 L313.6,367.5 L314.1,367.5 L314.6,367.5 L315.1,367.6 L315.6,367.7 L316.1,367.8 L316.6,368.0 L317.1,368.1 L317.6,368.3 L318.1,368.4 L318.6,368.6 L319.1,368.8 L319.6,369.0 L320.1,369.2 L320.6,369.4 L321.1,369.6 L321.6,369.7 L322.1,369.9 L322.6,370.0 L323.1,370.1 L323.6,370.3 L324.1,370.4 L324.6,370.6 L325.1,370.7 L325.6,370.9 L326.1,371.0 L326.6,371.1 L327.1,371.2 L327.6,371.3 L328.1,371.4 L328.6,371.5 L329.1,371.6 L329.6,371.7 L330.1,371.7 L330.6,371.8 L331.1,371.8 L331.6,371.9 L332.1,371.9 L332.6,371.9 L333.1,372.0 L333.6,372.0 L334.1,372.0 L334.6,372.1 L335.1,372.1 L335.6,372.2 L336.1,372.2 L336.6,372.3 L337.1,372.4 L337.6,372.6 L338.1,372.7 L338.6,372.9 L339.1,373.1 L339.6,373.3 L340.1,373.5 L340.6,373.7 L341.1,373.9 L341.6,374.2 L342.1,374.5 L342.6,374.7 L343.1,375.0 L343.6,375.2 L344.1,375.2 L344.6,375.0 L345.1,374.7 L345.6,374.2 L346.1,373.7 L346.6,373.3 L347.1,372.8 L347.6,372.3 L348.1,371.9 L348.6,371.5 L349.1,371.2 L349.6,370.9 L350.1,370.5 L350.6,370.2 L351.1,370.0 L351.6,369.7 L352.1,369.5 L352.6,369.3 L353.1,369.2 L353.6,369.2 L354.1,369.3 L354.6,369.5 L355.1,369.8 L355.6,370.0 L356.1,370.3 L356.6,370.5 L357.1,370.6 L357.6,370.8 L358.1,371.0 L358.6,371.1 L359.1,371.2 L359.6,371.2 L360.1,371.2 L360.6,371.1 L361.1,371.0 L361.6,370.9 L362.1,370.8 L362.6,370.7 L363.1,370.6 L363.6,370.5 L364.1,370.4 L364.6,370.3 L365.1,370.1 L365.6,370.0 L366.1,369.8 L366.6,369.7 L367.1,369.5 L367.6,369.3 L368.1,369.1 L368.6,368.8 L369.1,368.6 L369.6,368.3 L370.1,368.1 L370.6,367.8 L371.1,367.6 L371.6,367.3 L372.1,367.0 L372.6,366.6 L373.1,366.3 L373.6,366.1 L374.1,365.9 L374.6,365.8 L375.1,365.7 L375.6,365.7 L376.1,365.6 L376.6,365.6 L377.1,365.5 L377.6,365.4 L378.1,365.3 L378.6,365.0 L379.1,364.6 L379.6,364.1 L380.1,363.6 L380.6,363.1 L381.1,362.6 L381.6,362.0 L382.1,361.5 L382.6,361.1 L383.1,360.6 L383.6,360.2 L384.1,359.7 L384.6,359.3 L385.1,358.8 L385.6,358.2 L386.1,357.6 L386.6,356.9 L387.1,356.1 L387.6,355.2 L388.1,354.3 L388.6,353.3 L389.1,352.2 L389.6,351.1 L390.1,349.9 L390.6,348.7 L391.1,347.4 L391.6,346.0 L392.1,344.6 L392.6,343.1 L393.1,341.6 L393.6,339.9 L394.1,338.3 L394.6,336.5 L395.1,334.7 L395.6,332.8 L396.1,330.8 L396.6,328.8 L397.1,326.7 L397.6,324.6 L398.1,322.3 L398.6,320.1 L399.1,317.7 L399.6,315.3 L400.1,312.8 L400.6,310.3 L401.1,307.7 L401.6,305.1 L402.1,302.5 L402.6,299.8 L403.1,297.1 L403.6,294.4 L404.1,291.7 L404.6,289.0 L405.1,286.3 L405.6,283.6 L406.1,280.9 L406.6,278.4 L407.1,275.8 L407.6,273.4 L408.1,271.0 L408.6,268.7 L409.1,266.4 L409.6,264.3 L410.1,262.3 L410.6,260.4 L411.1,258.7 L411.6,257.0 L412.1,255.5 L412.6,254.1 L413.1,252.9 L413.6,251.8 L414.1,250.9 L414.6,250.1 L415.1,249.4 L415.6,248.9 L416.1,248.6 L416.6,248.4 L417.1,248.3 L417.6,248.4 L418.1,248.7 L418.6,249.0 L419.1,249.5 L419.6,250.1 L420.1,250.7 L420.6,251.5 L421.1,252.2 L421.6,253.0 L422.1,253.9 L422.6,254.7 L423.1,255.5 L423.6,256.2 L424.1,257.0 L424.6,257.6 L425.1,258.2 L425.6,258.6 L426.1,259.0 L426.6,259.3 L427.1,259.4 L427.6,259.4 L428.1,259.3 L428.6,259.0 L429.1,258.6 L429.6,258.1 L430.1,257.5 L430.6,256.8 L431.1,256.1 L431.6,255.2 L432.1,254.3 L432.6,253.4 L433.1,252.6 L433.6,251.8 L434.1,251.2 L434.6,250.6 L435.1,250.1 L435.6,249.8 L436.1,249.7 L436.6,249.8 L437.1,250.2 L437.6,250.8 L438.1,251.8 L438.6,253.0 L439.1,254.4 L439.6,256.0 L440.1,257.9 L440.6,259.8 L441.1,261.9 L441.6,264.0 L442.1,266.2 L442.6,268.4 L443.1,270.7 L443.6,272.9 L444.1,275.1 L444.6,277.2 L445.1,279.4 L445.6,281.4 L446.1,283.4 L446.6,285.3 L447.1,287.2 L447.6,288.9 L448.1,290.7 L448.6,292.4 L449.1,294.1 L449.6,295.7 L450.1,297.3 L450.6,298.9 L451.1,300.6 L451.6,302.2 L452.1,303.8 L452.6,305.5 L453.1,307.2 L453.6,309.0 L454.1,310.7 L454.6,312.5 L455.1,314.3 L455.6,316.1 L456.1,317.9 L456.6,319.7 L457.1,321.5 L457.6,323.3 L458.1,325.1 L458.6,326.8 L459.1,328.4 L459.6,330.0 L460.1,331.5 L460.6,332.9 L461.1,334.2 L461.6,335.5 L462.1,336.6 L462.6,337.7 L463.1,338.8 L463.6,339.8 L464.1,340.7 L464.6,341.6 L465.1,342.5 L465.6,343.4 L466.1,344.2 L466.6,345.0 L467.1,345.8 L467.6,346.5 L468.1,347.3 L468.6,348.0 L469.1,348.7 L469.6,349.4 L470.1,350.1 L470.6,350.8 L471.1,351.5 L471.6,352.2 L472.1,352.9 L472.6,353.6 L473.1,354.3 L473.6,355.0 L474.1,355.7 L474.6,356.3 L475.1,357.0 L475.6,357.5 L476.1,358.1 L476.6,358.6 L477.1,359.0 L477.6,359.4 L478.1,359.7 L478.6,360.0 L479.1,360.2 L479.6,360.4 L480.1,360.5 L480.6,360.7 L481.1,360.8 L481.6,360.9 L482.1,361.0 L482.6,361.1 L483.1,361.2 L483.6,361.4 L484.1,361.5 L484.6,361.7 L485.1,361.9 L485.6,362.1 L486.1,362.4 L486.6,362.7 L487.1,363.0 L487.6,363.4 L488.1,363.9 L488.6,364.3 L489.1,364.8 L489.6,365.3 L490.1,365.8 L490.6,366.4 L491.1,366.9 L491.6,367.4 L492.1,367.9 L492.6,368.4 L493.1,368.8 L493.6,369.2 L494.1,369.6 L494.6,369.9 L495.1,370.1 L495.6,370.3 L496.1,370.5 L496.6,370.7 L497.1,370.7 L497.6,370.8 L498.1,370.8 L498.6,370.8 L499.1,370.8 L499.6,370.7 L500.1,370.6 L500.6,370.5 L501.1,370.4 L501.6,370.3 L502.1,370.2 L502.6,370.1 L503.1,370.0 L503.6,369.9 L504.1,369.8 L504.6,369.8 L505.1,369.8 L505.6,369.8 L506.1,369.8 L506.6,369.9 L507.1,369.9 L507.6,370.0 L508.1,370.2 L508.6,370.3 L509.1,370.5 L509.6,370.6 L510.1,370.8 L510.6,371.0 L511.1,371.2 L511.6,371.4 L512.1,371.6 L512.6,371.8 L513.1,371.9 L513.6,372.1 L514.1,372.3 L514.6,372.4 L515.1,372.5 L515.6,372.6 L516.1,372.7 L516.6,372.7 L517.1,372.8 L517.6,372.8 L518.1,372.8 L518.6,372.8 L519.1,372.7 L519.6,372.7 L520.1,372.7 L520.6,372.6 L521.1,372.6 L521.6,372.6 L522.1,372.5 L522.6,372.5 L523.1,372.5 L523.6,372.5 L524.1,372.4 L524.6,372.5 L525.1,372.5 L525.6,372.5 L526.1,372.6 L526.6,372.6 L527.1,372.7 L527.6,372.8 L528.1,372.9 L528.6,373.1 L529.1,373.2 L529.6,373.3 L530.1,373.5 L530.6,373.6 L531.1,373.8 L531.6,373.9 L532.1,374.1 L532.6,374.2 L533.1,374.3 L533.6,374.4 L534.1,374.5 L534.6,374.6 L535.1,374.7 L535.6,374.7 L536.1,374.7 L536.6,374.8 L537.1,374.7 L537.6,374.7 L538.1,374.7 L538.6,374.7 L539.1,374.6 L539.6,374.5 L540.1,374.5 L540.6,374.4"/>
<path id="c30" d="M61.6,379.4 L62.1,379.4 L62.6,379.5 L63.1,379.5 L63.6,379.5 L64.1,379.5 L64.6,379.5 L65.1,379.4 L65.6,379.3 L66.1,379.3 L66.6,379.2 L67.1,379.1 L67.6,378.9 L68.1,378.8 L68.6,378.7 L69.1,378.6 L69.6,378.5 L70.1,378.4 L70.6,378.3 L71.1,378.3 L71.6,378.2 L72.1,378.2 L72.6,378.1 L73.1,378.1 L73.6,378.1 L74.1,378.0 L74.6,378.0 L75.1,377.9 L75.6,377.8 L76.1,377.7 L76.6,377.6 L77.1,377.4 L77.6,377.3 L78.1,377.1 L78.6,377.0 L79.1,376.9 L79.6,376.9 L80.1,376.8 L80.6,376.8 L81.1,376.8 L81.6,376.8 L82.1,376.8 L82.6,376.8 L83.1,376.7 L83.6,376.7 L84.1,376.7 L84.6,376.7 L85.1,376.8 L85.6,376.8 L86.1,376.8 L86.6,376.9 L87.1,376.9 L87.6,377.0 L88.1,377.1 L88.6,377.3 L89.1,377.4 L89.6,377.5 L90.1,377.7 L90.6,377.8 L91.1,377.9 L91.6,378.1 L92.1,378.2 L92.6,378.4 L93.1,378.5 L93.6,378.6 L94.1,378.7 L94.6,378.8 L95.1,378.9 L95.6,379.0 L96.1,379.0 L96.6,379.1 L97.1,379.1 L97.6,379.1 L98.1,379.0 L98.6,379.0 L99.1,378.9 L99.6,378.9 L100.1,378.8 L100.6,378.7 L101.1,378.5 L101.6,378.4 L102.1,378.3 L102.6,378.1 L103.1,378.0 L103.6,377.8 L104.1,377.7 L104.6,377.6 L105.1,377.5 L105.6,377.4 L106.1,377.3 L106.6,377.2 L107.1,377.2 L107.6,377.2 L108.1,377.2 L108.6,377.2 L109.1,377.2 L109.6,377.3 L110.1,377.3 L110.6,377.3 L111.1,377.4 L111.6,377.4 L112.1,377.4 L112.6,377.4 L113.1,377.4 L113.6,377.4 L114.1,377.4 L114.6,377.3 L115.1,377.3 L115.6,377.2 L116.1,377.2 L116.6,377.1 L117.1,377.0 L117.6,376.9 L118.1,376.8 L118.6,376.7 L119.1,376.7 L119.6,376.6 L120.1,376.5 L120.6,376.4 L121.1,376.4 L121.6,376.3 L122.1,376.3 L122.6,376.2 L123.1,376.2 L123.6,376.2 L124.1,376.2 L124.6,376.1 L125.1,376.1 L125.6,376.1 L126.1,376.1 L126.6,376.1 L127.1,376.1 L127.6,376.1 L128.1,376.1 L128.6,376.1 L129.1,376.0 L129.6,376.0 L130.1,375.9 L130.6,375.9 L131.1,375.8 L131.6,375.7 L132.1,375.7 L132.6,375.6 L133.1,375.5 L133.6,375.5 L134.1,375.4 L134.6,375.4 L135.1,375.3 L135.6,375.3 L136.1,375.2 L136.6,375.2 L137.1,375.1 L137.6,375.1 L138.1,375.1 L138.6,375.1 L139.1,375.0 L139.6,375.0 L140.1,375.0 L140.6,374.9 L141.1,374.9 L141.6,374.9 L142.1,374.9 L142.6,374.8 L143.1,374.8 L143.6,374.7 L144.1,374.7 L144.6,374.6 L145.1,374.6 L145.6,374.5 L146.1,374.4 L146.6,374.3 L147.1,374.2 L147.6,374.1 L148.1,374.0 L148.6,373.8 L149.1,373.7 L149.6,373.5 L150.1,373.4 L150.6,373.2 L151.1,373.0 L151.6,372.9 L152.1,372.7 L152.6,372.5 L153.1,372.2 L153.6,372.0 L154.1,371.8 L154.6,371.6 L155.1,371.3 L155.6,371.1 L156.1,370.9 L156.6,370.7 L157.1,370.5 L157.6,370.2 L158.1,370.0 L158.6,369.8 L159.1,369.6 L159.6,369.5 L160.1,369.3 L160.6,369.1 L161.1,368.9 L161.6,368.7 L162.1,368.4 L162.6,368.2 L163.1,367.9 L163.6,367.6 L164.1,367.3 L164.6,366.9 L165.1,366.5 L165.6,366.0 L166.1,365.6 L166.6,365.0 L167.1,364.5 L167.6,363.9 L168.1,363.3 L168.6,362.6 L169.1,361.8 L169.6,361.0 L170.1,360.2 L170.6,359.3 L171.1,358.4 L171.6,357.4 L172.1,356.3 L172.6,355.2 L173.1,354.0 L173.6,352.8 L174.1,351.5 L174.6,350.2 L175.1,348.8 L175.6,347.3 L176.1,345.8 L176.6,344.2 L177.1,342.5 L177.6,340.8 L178.1,339.1 L178.6,337.3 L179.1,335.5 L179.6,333.7 L180.1,331.8 L180.6,329.9 L181.1,328.0 L181.6,326.0 L182.1,324.1 L182.6,322.1 L183.1,320.2 L183.6,318.3 L184.1,316.4 L184.6,314.6 L185.1,312.9 L185.6,311.2 L186.1,309.6 L186.6,308.1 L187.1,306.7 L187.6,305.4 L188.1,304.3 L188.6,303.3 L189.1,302.4 L189.6,301.8 L190.1,301.3 L190.6,300.9 L191.1,300.8 L191.6,301.0 L192.1,301.5 L192.6,302.4 L193.1,303.5 L193.6,304.9 L194.1,306.5 L194.6,308.4 L195.1,310.3 L195.6,312.4 L196.1,314.5 L196.6,316.6 L197.1,318.7 L197.6,320.7 L198.1,322.8 L198.6,324.8 L199.1,326.7 L199.6,328.6 L200.1,330.4 L200.6,332.1 L201.1,333.7 L201.6,335.2 L202.1,336.6 L202.6,337.9 L203.1,339.2 L203.6,340.3 L204.1,341.4 L204.6,342.4 L205.1,343.3 L205.6,344.1 L206.1,344.8 L206.6,345.5 L207.1,346.1 L207.6,346.7 L208.1,347.1 L208.6,347.6 L209.1,347.9 L209.6,348.2 L210.1,348.5 L210.6,348.6 L211.1,348.7 L211.6,348.8 L212.1,348.7 L212.6,348.6 L213.1,348.4 L213.6,348.2 L214.1,347.8 L214.6,347.3 L215.1,346.7 L215.6,346.0 L216.1,345.2 L216.6,344.3 L217.1,343.2 L217.6,341.9 L218.1,340.5 L218.6,338.8 L219.1,337.0 L219.6,335.0 L220.1,332.8 L220.6,330.4 L221.1,327.7 L221.6,324.9 L222.1,321.8 L222.6,318.4 L223.1,314.7 L223.6,310.8 L224.1,306.5 L224.6,302.0 L225.1,297.1 L225.6,291.8 L226.1,286.3 L226.6,280.4 L227.1,274.2 L227.6,267.7 L228.1,261.0 L228.6,254.0 L229.1,247.0 L229.6,239.8 L230.1,232.7 L230.6,225.7 L231.1,218.9 L231.6,212.4 L232.1,206.4 L232.6,200.9 L233.1,196.0 L233.6,191.8 L234.1,188.3 L234.6,185.7 L235.1,184.1 L235.6,183.4 L236.1,183.6 L236.6,184.3 L237.1,185.5 L237.6,187.2 L238.1,189.4 L238.6,192.0 L239.1,195.1 L239.6,198.5 L240.1,202.4 L240.6,206.5 L241.1,210.9 L241.6,215.5 L242.1,220.4 L242.6,225.3 L243.1,230.5 L243.6,235.7 L244.1,240.9 L244.6,246.2 L245.1,251.5 L245.6,256.8 L246.1,262.0 L246.6,267.1 L247.1,272.1 L247.6,277.1 L248.1,281.9 L248.6,286.6 L249.1,291.1 L249.6,295.5 L250.1,299.7 L250.6,303.8 L251.1,307.7 L251.6,311.4 L252.1,315.0 L252.6,318.5 L253.1,321.7 L253.6,324.8 L254.1,327.8 L254.6,330.5 L255.1,333.1 L255.6,335.6 L256.1,337.9 L256.6,340.1 L257.1,342.2 L257.6,344.1 L258.1,345.9 L258.6,347.5 L259.1,349.1 L259.6,350.5 L260.1,351.9 L260.6,353.1 L261.1,354.3 L261.6,355.3 L262.1,356.3 L262.6,357.2 L263.1,358.1 L263.6,358.8 L264.1,359.5 L264.6,360.2 L265.1,360.8 L265.6,361.4 L266.1,361.9 L266.6,362.4 L267.1,362.8 L267.6,363.2 L268.1,363.6 L268.6,363.9 L269.1,364.2 L269.6,364.5 L270.1,364.8 L270.6,365.0 L271.1,365.3 L271.6,365.5 L272.1,365.7 L272.6,365.9 L273.1,366.0 L273.6,366.2 L274.1,366.3 L274.6,366.4 L275.1,366.5 L275.6,366.6 L276.1,366.7 L276.6,366.7 L277.1,366.8 L277.6,366.8 L278.1,366.9 L278.6,366.9 L279.1,366.9 L279.6,366.9 L280.1,366.9 L280.6,366.9 L281.1,367.0 L281.6,367.0 L282.1,367.0 L282.6,367.0 L283.1,367.0 L283.6,367.0 L284.1,367.0 L284.6,367.0 L285.1,366.9 L285.6,366.9 L286.1,366.9 L286.6,366.9 L287.1,366.9 L287.6,366.8 L288.1,366.8 L288.6,366.8 L289.1,366.7 L289.6,366.7 L290.1,366.7 L290.6,366.6 L291.1,366.6 L291.6,366.5 L292.1,366.5 L292.6,366.4 L293.1,366.3 L293.6,366.2 L294.1,366.1 L294.6,366.1 L295.1,366.0 L295.6,365.9 L296.1,365.8 L296.6,365.6 L297.1,365.4 L297.6,365.3 L298.1,365.1 L298.6,364.9 L299.1,364.7 L299.6,364.6 L300.1,364.4 L300.6,364.3 L301.1,364.3 L301.6,364.4 L302.1,364.5 L302.6,364.6 L303.1,364.8 L303.6,364.9 L304.1,365.0 L304.6,365.2 L305.1,365.5 L305.6,365.8 L306.1,366.1 L306.6,366.4 L307.1,366.6 L307.6,366.6 L308.1,366.5 L308.6,366.3 L309.1,366.1 L309.6,365.8 L310.1,365.5 L310.6,365.3 L311.1,365.1 L311.6,364.9 L312.1,364.7 L312.6,364.4 L313.1,364.3 L313.6,364.2 L314.1,364.2 L314.6,364.3 L315.1,364.4 L315.6,364.6 L316.1,364.7 L316.6,364.9 L317.1,365.0 L317.6,365.2 L318.1,365.3 L318.6,365.4 L319.1,365.6 L319.6,365.8 L320.1,365.9 L320.6,366.1 L321.1,366.3 L321.6,366.4 L322.1,366.6 L322.6,366.8 L323.1,366.9 L323.6,367.2 L324.1,367.4 L324.6,367.6 L325.1,367.9 L325.6,368.2 L326.1,368.4 L326.6,368.7 L327.1,368.9 L327.6,369.1 L328.1,369.4 L328.6,369.6 L329.1,369.7 L329.6,369.9 L330.1,370.1 L330.6,370.2 L331.1,370.4 L331.6,370.5 L332.1,370.6 L332.6,370.7 L333.1,370.8 L333.6,370.9 L334.1,371.0 L334.6,371.1 L335.1,371.2 L335.6,371.4 L336.1,371.5 L336.6,371.6 L337.1,371.8 L337.6,372.0 L338.1,372.2 L338.6,372.5 L339.1,372.7 L339.6,373.0 L340.1,373.3 L340.6,373.6 L341.1,373.8 L341.6,374.1 L342.1,374.5 L342.6,374.8 L343.1,375.0 L343.6,375.2 L344.1,375.3 L344.6,375.1 L345.1,374.7 L345.6,374.3 L346.1,373.8 L346.6,373.3 L347.1,372.9 L347.6,372.4 L348.1,371.9 L348.6,371.5 L349.1,371.2 L349.6,370.9 L350.1,370.6 L350.6,370.3 L351.1,370.0 L351.6,369.7 L352.1,369.5 L352.6,369.4 L353.1,369.3 L353.6,369.2 L354.1,369.3 L354.6,369.5 L355.1,369.8 L355.6,370.0 L356.1,370.3 L356.6,370.4 L357.1,370.6 L357.6,370.8 L358.1,371.0 L358.6,371.1 L359.1,371.2 L359.6,371.2 L360.1,371.2 L360.6,371.1 L361.1,371.0 L361.6,370.9 L362.1,370.8 L362.6,370.7 L363.1,370.6 L363.6,370.5 L364.1,370.4 L364.6,370.3 L365.1,370.1 L365.6,370.0 L366.1,369.9 L366.6,369.7 L367.1,369.5 L367.6,369.3 L368.1,369.1 L368.6,368.9 L369.1,368.6 L369.6,368.4 L370.1,368.1 L370.6,367.8 L371.1,367.6 L371.6,367.3 L372.1,367.0 L372.6,366.6 L373.1,366.3 L373.6,366.1 L374.1,365.9 L374.6,365.8 L375.1,365.7 L375.6,365.7 L376.1,365.7 L376.6,365.6 L377.1,365.6 L377.6,365.5 L378.1,365.3 L378.6,365.0 L379.1,364.7 L379.6,364.3 L380.1,363.9 L380.6,363.4 L381.1,363.0 L381.6,362.6 L382.1,362.2 L382.6,361.9 L383.1,361.7 L383.6,361.4 L384.1,361.2 L384.6,360.9 L385.1,360.6 L385.6,360.3 L386.1,359.8 L386.6,359.3 L387.1,358.7 L387.6,358.0 L388.1,357.3 L388.6,356.5 L389.1,355.6 L389.6,354.6 L390.1,353.7 L390.6,352.6 L391.1,351.5 L391.6,350.4 L392.1,349.3 L392.6,348.1 L393.1,346.8 L393.6,345.5 L394.1,344.1 L394.6,342.7 L395.1,341.3 L395.6,339.8 L396.1,338.2 L396.6,336.6 L397.1,334.9 L397.6,333.2 L398.1,331.4 L398.6,329.6 L399.1,327.8 L399.6,325.9 L400.1,323.9 L400.6,321.9 L401.1,319.9 L401.6,317.8 L402.1,315.7 L402.6,313.6 L403.1,311.4 L403.6,309.2 L404.1,307.1 L404.6,304.9 L405.1,302.8 L405.6,300.6 L406.1,298.5 L406.6,296.5 L407.1,294.5 L407.6,292.5 L408.1,290.6 L408.6,288.8 L409.1,287.0 L409.6,285.3 L410.1,283.7 L410.6,282.2 L411.1,280.8 L411.6,279.5 L412.1,278.3 L412.6,277.2 L413.1,276.2 L413.6,275.4 L414.1,274.6 L414.6,273.9 L415.1,273.4 L415.6,272.9 L416.1,272.6 L416.6,272.5 L417.1,272.4 L417.6,272.5 L418.1,272.7 L418.6,273.0 L419.1,273.4 L419.6,273.8 L420.1,274.4 L420.6,275.0 L421.1,275.6 L421.6,276.2 L422.1,276.9 L422.6,277.6 L423.1,278.2 L423.6,278.9 L424.1,279.5 L424.6,280.0 L425.1,280.5 L425.6,280.9 L426.1,281.3 L426.6,281.6 L427.1,281.7 L427.6,281.8 L428.1,281.8 L428.6,281.7 L429.1,281.4 L429.6,281.1 L430.1,280.7 L430.6,280.3 L431.1,279.7 L431.6,279.1 L432.1,278.4 L432.6,277.8 L433.1,277.1 L433.6,276.5 L434.1,276.0 L434.6,275.5 L435.1,275.1 L435.6,274.8 L436.1,274.6 L436.6,274.6 L437.1,274.8 L437.6,275.3 L438.1,276.0 L438.6,277.0 L439.1,278.1 L439.6,279.4 L440.1,280.9 L440.6,282.4 L441.1,284.0 L441.6,285.7 L442.1,287.4 L442.6,289.1 L443.1,290.8 L443.6,292.5 L444.1,294.2 L444.6,295.8 L445.1,297.4 L445.6,299.0 L446.1,300.5 L446.6,302.0 L447.1,303.4 L447.6,304.8 L448.1,306.1 L448.6,307.4 L449.1,308.7 L449.6,310.0 L450.1,311.2 L450.6,312.5 L451.1,313.8 L451.6,315.1 L452.1,316.4 L452.6,317.7 L453.1,319.1 L453.6,320.5 L454.1,321.9 L454.6,323.4 L455.1,324.9 L455.6,326.4 L456.1,327.9 L456.6,329.5 L457.1,331.0 L457.6,332.6 L458.1,334.1 L458.6,335.6 L459.1,337.0 L459.6,338.4 L460.1,339.6 L460.6,340.8 L461.1,342.0 L461.6,343.1 L462.1,344.1 L462.6,345.0 L463.1,346.0 L463.6,346.8 L464.1,347.7 L464.6,348.5 L465.1,349.3 L465.6,350.0 L466.1,350.8 L466.6,351.5 L467.1,352.3 L467.6,353.0 L468.1,353.7 L468.6,354.4 L469.1,355.1 L469.6,355.8 L470.1,356.5 L470.6,357.1 L471.1,357.8 L471.6,358.4 L472.1,359.0 L472.6,359.6 L473.1,360.2 L473.6,360.8 L474.1,361.4 L474.6,361.9 L475.1,362.4 L475.6,362.8 L476.1,363.2 L476.6,363.5 L477.1,363.8 L477.6,364.0 L478.1,364.1 L478.6,364.3 L479.1,364.4 L479.6,364.4 L480.1,364.5 L480.6,364.6 L481.1,364.6 L481.6,364.7 L482.1,364.7 L482.6,364.8 L483.1,364.9 L483.6,365.0 L484.1,365.1 L484.6,365.2 L485.1,365.3 L485.6,365.5 L486.1,365.7 L486.6,365.9 L487.1,366.1 L487.6,366.4 L488.1,366.7 L488.6,367.0 L489.1,367.4 L489.6,367.7 L490.1,368.1 L490.6,368.5 L491.1,368.9 L491.6,369.2 L492.1,369.6 L492.6,369.9 L493.1,370.2 L493.6,370.5 L494.1,370.7 L494.6,370.9 L495.1,371.1 L495.6,371.3 L496.1,371.5 L496.6,371.6 L497.1,371.8 L497.6,371.9 L498.1,371.9 L498.6,372.0 L499.1,372.0 L499.6,372.1 L500.1,372.1 L500.6,372.1 L501.1,372.0 L501.6,372.0 L502.1,372.0 L502.6,371.9 L503.1,371.8 L503.6,371.8 L504.1,371.7 L504.6,371.6 L505.1,371.5 L505.6,371.5 L506.1,371.4 L506.6,371.4 L507.1,371.3 L507.6,371.3 L508.1,371.3 L508.6,371.4 L509.1,371.4 L509.6,371.5 L510.1,371.6 L510.6,371.7 L511.1,371.8 L511.6,371.9 L512.1,372.1 L512.6,372.3 L513.1,372.5 L513.6,372.7 L514.1,372.9 L514.6,373.0 L515.1,373.2 L515.6,373.4 L516.1,373.6 L516.6,373.7 L517.1,373.9 L517.6,374.0 L518.1,374.1 L518.6,374.2 L519.1,374.2 L519.6,374.3 L520.1,374.3 L520.6,374.3 L521.1,374.2 L521.6,374.2 L522.1,374.1 L522.6,374.0 L523.1,373.9 L523.6,373.8 L524.1,373.7 L524.6,373.6 L525.1,373.5 L525.6,373.4 L526.1,373.4 L526.6,373.3 L527.1,373.3 L527.6,373.3 L528.1,373.3 L528.6,373.3 L529.1,373.4 L529.6,373.5 L530.1,373.6 L530.6,373.7 L531.1,373.9 L531.6,374.0 L532.1,374.2 L532.6,374.3 L533.1,374.5 L533.6,374.7 L534.1,374.8 L534.6,374.9 L535.1,375.0 L535.6,375.1 L536.1,375.2 L536.6,375.2 L537.1,375.3 L537.6,375.3 L538.1,375.2 L538.6,375.2 L539.1,375.1 L539.6,375.0 L540.1,374.9 L540.6,374.8"/>
<path id="c50" d="M61.6,374.0 L62.1,373.9 L62.6,373.8 L63.1,373.7 L63.6,373.7 L64.1,373.7 L64.6,373.7 L65.1,373.7 L65.6,373.8 L66.1,373.9 L66.6,374.0 L67.1,374.2 L67.6,374.3 L68.1,374.5 L68.6,374.7 L69.1,374.9 L69.6,375.0 L70.1,375.2 L70.6,375.3 L71.1,375.5 L71.6,375.6 L72.1,375.7 L72.6,375.8 L73.1,375.8 L73.6,375.8 L74.1,375.8 L74.6,375.7 L75.1,375.6 L75.6,375.4 L76.1,375.2 L76.6,375.0 L77.1,374.8 L77.6,374.6 L78.1,374.4 L78.6,374.2 L79.1,374.0 L79.6,373.9 L80.1,373.9 L80.6,373.9 L81.1,373.9 L81.6,374.0 L82.1,374.0 L82.6,374.1 L83.1,374.2 L83.6,374.3 L84.1,374.4 L84.6,374.5 L85.1,374.6 L85.6,374.7 L86.1,374.7 L86.6,374.8 L87.1,374.9 L87.6,374.9 L88.1,375.0 L88.6,375.0 L89.1,375.0 L89.6,375.0 L90.1,374.9 L90.6,374.9 L91.1,374.8 L91.6,374.7 L92.1,374.6 L92.6,374.5 L93.1,374.4 L93.6,374.3 L94.1,374.3 L94.6,374.2 L95.1,374.2 L95.6,374.2 L96.1,374.2 L96.6,374.2 L97.1,374.3 L97.6,374.4 L98.1,374.5 L98.6,374.6 L99.1,374.8 L99.6,374.9 L100.1,375.1 L100.6,375.3 L101.1,375.4 L101.6,375.6 L102.1,375.7 L102.6,375.9 L103.1,376.0 L103.6,376.1 L104.1,376.1 L104.6,376.1 L105.1,376.1 L105.6,376.1 L106.1,376.0 L106.6,375.9 L107.1,375.8 L107.6,375.7 L108.1,375.5 L108.6,375.4 L109.1,375.2 L109.6,375.0 L110.1,374.8 L110.6,374.6 L111.1,374.3 L111.6,374.1 L112.1,373.9 L112.6,373.7 L113.1,373.5 L113.6,373.4 L114.1,373.2 L114.6,373.1 L115.1,373.0 L115.6,372.9 L116.1,372.8 L116.6,372.8 L117.1,372.7 L117.6,372.7 L118.1,372.7 L118.6,372.7 L119.1,372.7 L119.6,372.8 L120.1,372.8 L120.6,372.8 L121.1,372.8 L121.6,372.9 L122.1,372.9 L122.6,372.9 L123.1,372.9 L123.6,372.9 L124.1,372.9 L124.6,372.9 L125.1,372.8 L125.6,372.8 L126.1,372.8 L126.6,372.8 L127.1,372.7 L127.6,372.7 L128.1,372.7 L128.6,372.7 L129.1,372.7 L129.6,372.7 L130.1,372.7 L130.6,372.8 L131.1,372.8 L131.6,372.9 L132.1,373.0 L132.6,373.0 L133.1,373.1 L133.6,373.2 L134.1,373.3 L134.6,373.4 L135.1,373.5 L135.6,373.6 L136.1,373.6 L136.6,373.7 L137.1,373.7 L137.6,373.7 L138.1,373.7 L138.6,373.7 L139.1,373.6 L139.6,373.6 L140.1,373.5 L140.6,373.4 L141.1,373.2 L141.6,373.1 L142.1,372.9 L142.6,372.8 L143.1,372.6 L143.6,372.4 L144.1,372.2 L144.6,372.0 L145.1,371.9 L145.6,371.7 L146.1,371.5 L146.6,371.3 L147.1,371.1 L147.6,371.0 L148.1,370.8 L148.6,370.6 L149.1,370.5 L149.6,370.3 L150.1,370.2 L150.6,370.0 L151.1,369.8 L151.6,369.6 L152.1,369.5 L152.6,369.3 L153.1,369.1 L153.6,368.8 L154.1,368.6 L154.6,368.4 L155.1,368.1 L155.6,367.9 L156.1,367.6 L156.6,367.4 L157.1,367.1 L157.6,366.9 L158.1,366.6 L158.6,366.3 L159.1,366.1 L159.6,365.8 L160.1,365.5 L160.6,365.2 L161.1,364.9 L161.6,364.6 L162.1,364.2 L162.6,363.9 L163.1,363.4 L163.6,363.0 L164.1,362.5 L164.6,362.0 L165.1,361.4 L165.6,360.8 L166.1,360.1 L166.6,359.4 L167.1,358.6 L167.6,357.8 L168.1,356.9 L168.6,356.0 L169.1,354.9 L169.6,353.8 L170.1,352.7 L170.6,351.4 L171.1,350.1 L171.6,348.7 L172.1,347.2 L172.6,345.7 L173.1,344.0 L173.6,342.3 L174.1,340.4 L174.6,338.5 L175.1,336.5 L175.6,334.5 L176.1,332.3 L176.6,330.1 L177.1,327.8 L177.6,325.4 L178.1,322.9 L178.6,320.4 L179.1,317.8 L179.6,315.2 L180.1,312.6 L180.6,309.9 L181.1,307.2 L181.6,304.4 L182.1,301.7 L182.6,299.0 L183.1,296.3 L183.6,293.6 L184.1,291.0 L184.6,288.4 L185.1,285.9 L185.6,283.6 L186.1,281.3 L186.6,279.2 L187.1,277.3 L187.6,275.5 L188.1,273.9 L188.6,272.5 L189.1,271.4 L189.6,270.5 L190.1,269.8 L190.6,269.3 L191.1,269.2 L191.6,269.5 L192.1,270.3 L192.6,271.5 L193.1,273.1 L193.6,275.1 L194.1,277.4 L194.6,280.0 L195.1,282.8 L195.6,285.7 L196.1,288.7 L196.6,291.7 L197.1,294.7 L197.6,297.6 L198.1,300.5 L198.6,303.4 L199.1,306.1 L199.6,308.8 L200.1,311.3 L200.6,313.7 L201.1,316.0 L201.6,318.2 L202.1,320.2 L202.6,322.0 L203.1,323.8 L203.6,325.4 L204.1,326.9 L204.6,328.3 L205.1,329.6 L205.6,330.7 L206.1,331.8 L206.6,332.8 L207.1,333.6 L207.6,334.4 L208.1,335.1 L208.6,335.7 L209.1,336.2 L209.6,336.6 L210.1,337.0 L210.6,337.2 L211.1,337.4 L211.6,337.5 L212.1,337.5 L212.6,337.4 L213.1,337.2 L213.6,336.9 L214.1,336.4 L214.6,335.9 L215.1,335.2 L215.6,334.3 L216.1,333.3 L216.6,332.1 L217.1,330.8 L217.6,329.2 L218.1,327.4 L218.6,325.4 L219.1,323.2 L219.6,320.6 L220.1,317.8 L220.6,314.6 L221.1,311.2 L221.6,307.5 L222.1,303.3 L222.6,298.8 L223.1,293.9 L223.6,288.5 L224.1,282.7 L224.6,276.4 L225.1,269.5 L225.6,262.2 L226.1,254.4 L226.6,246.1 L227.1,237.3 L227.6,228.0 L228.1,218.3 L228.6,208.2 L229.1,197.9 L229.6,187.4 L230.1,176.9 L230.6,166.4 L231.1,156.2 L231.6,146.4 L232.1,137.3 L232.6,128.9 L233.1,121.5 L233.6,115.3 L234.1,110.3 L234.6,106.9 L235.1,104.9 L235.6,104.6 L236.1,105.2 L236.6,106.6 L237.1,108.6 L237.6,111.3 L238.1,114.6 L238.6,118.6 L239.1,123.0 L239.6,128.0 L240.1,133.4 L240.6,139.2 L241.1,145.4 L241.6,151.9 L242.1,158.6 L242.6,165.4 L243.1,172.5 L243.6,179.6 L244.1,186.7 L244.6,193.9 L245.1,201.1 L245.6,208.2 L246.1,215.2 L246.6,222.2 L247.1,229.0 L247.6,235.6 L248.1,242.1 L248.6,248.4 L249.1,254.5 L249.6,260.4 L250.1,266.1 L250.6,271.7 L251.1,277.0 L251.6,282.1 L252.1,286.9 L252.6,291.6 L253.1,296.1 L253.6,300.3 L254.1,304.4 L254.6,308.2 L255.1,311.8 L255.6,315.2 L256.1,318.5 L256.6,321.5 L257.1,324.4 L257.6,327.1 L258.1,329.6 L258.6,332.0 L259.1,334.2 L259.6,336.3 L260.1,338.2 L260.6,340.0 L261.1,341.6 L261.6,343.2 L262.1,344.6 L262.6,345.9 L263.1,347.1 L263.6,348.3 L264.1,349.3 L264.6,350.3 L265.1,351.2 L265.6,352.0 L266.1,352.8 L266.6,353.5 L267.1,354.2 L267.6,354.9 L268.1,355.5 L268.6,356.1 L269.1,356.6 L269.6,357.2 L270.1,357.7 L270.6,358.2 L271.1,358.6 L271.6,359.1 L272.1,359.5 L272.6,359.9 L273.1,360.3 L273.6,360.6 L274.1,361.0 L274.6,361.3 L275.1,361.5 L275.6,361.8 L276.1,362.0 L276.6,362.2 L277.1,362.4 L277.6,362.5 L278.1,362.6 L278.6,362.7 L279.1,362.8 L279.6,362.9 L280.1,362.9 L280.6,363.0 L281.1,363.0 L281.6,363.0 L282.1,363.0 L282.6,363.0 L283.1,363.1 L283.6,363.1 L284.1,363.1 L284.6,363.1 L285.1,363.1 L285.6,363.1 L286.1,363.2 L286.6,363.2 L287.1,363.2 L287.6,363.2 L288.1,363.2 L288.6,363.3 L289.1,363.3 L289.6,363.3 L290.1,363.3 L290.6,363.3 L291.1,363.2 L291.6,363.2 L292.1,363.1 L292.6,363.0 L293.1,362.9 L293.6,362.7 L294.1,362.6 L294.6,362.4 L295.1,362.3 L295.6,362.1 L296.1,361.8 L296.6,361.6 L297.1,361.3 L297.6,361.0 L298.1,360.8 L298.6,360.5 L299.1,360.3 L299.6,360.1 L300.1,359.9 L300.6,359.9 L301.1,359.9 L301.6,360.0 L302.1,360.2 L302.6,360.4 L303.1,360.6 L303.6,360.9 L304.1,361.2 L304.6,361.5 L305.1,361.9 L305.6,362.4 L306.1,362.8 L306.6,363.2 L307.1,363.6 L307.6,363.7 L308.1,363.8 L308.6,363.7 L309.1,363.5 L309.6,363.3 L310.1,363.1 L310.6,362.9 L311.1,362.7 L311.6,362.5 L312.1,362.2 L312.6,362.0 L313.1,361.7 L313.6,361.6 L314.1,361.5 L314.6,361.5 L315.1,361.6 L315.6,361.7 L316.1,361.7 L316.6,361.8 L317.1,361.9 L317.6,362.0 L318.1,362.2 L318.6,362.3 L319.1,362.4 L319.6,362.6 L320.1,362.8 L320.6,363.0 L321.1,363.2 L321.6,363.5 L322.1,363.7 L322.6,364.0 L323.1,364.3 L323.6,364.6 L324.1,364.9 L324.6,365.2 L325.1,365.6 L325.6,365.9 L326.1,366.3 L326.6,366.6 L327.1,366.9 L327.6,367.2 L328.1,367.5 L328.6,367.8 L329.1,368.0 L329.6,368.2 L330.1,368.4 L330.6,368.6 L331.1,368.7 L331.6,368.9 L332.1,369.1 L332.6,369.2 L333.1,369.4 L333.6,369.5 L334.1,369.7 L334.6,369.8 L335.1,370.0 L335.6,370.2 L336.1,370.4 L336.6,370.6 L337.1,370.8 L337.6,371.1 L338.1,371.4 L338.6,371.7 L339.1,372.0 L339.6,372.4 L340.1,372.7 L340.6,373.1 L341.1,373.4 L341.6,373.8 L342.1,374.1 L342.6,374.5 L343.1,374.8 L343.6,375.0 L344.1,375.1 L344.6,375.0 L345.1,374.6 L345.6,374.2 L346.1,373.7 L346.6,373.3 L347.1,372.8 L347.6,372.3 L348.1,371.9 L348.6,371.5 L349.1,371.2 L349.6,370.8 L350.1,370.5 L350.6,370.2 L351.1,369.9 L351.6,369.7 L352.1,369.4 L352.6,369.3 L353.1,369.2 L353.6,369.2 L354.1,369.3 L354.6,369.5 L355.1,369.7 L355.6,370.0 L356.1,370.2 L356.6,370.4 L357.1,370.6 L357.6,370.8 L358.1,371.0 L358.6,371.1 L359.1,371.2 L359.6,371.2 L360.1,371.2 L360.6,371.1 L361.1,371.0 L361.6,370.9 L362.1,370.8 L362.6,370.7 L363.1,370.6 L363.6,370.5 L364.1,370.4 L364.6,370.3 L365.1,370.2 L365.6,370.0 L366.1,369.9 L366.6,369.7 L367.1,369.5 L367.6,369.3 L368.1,369.1 L368.6,368.9 L369.1,368.6 L369.6,368.4 L370.1,368.1 L370.6,367.9 L371.1,367.6 L371.6,367.3 L372.1,367.0 L372.6,366.7 L373.1,366.4 L373.6,366.1 L374.1,365.9 L374.6,365.8 L375.1,365.8 L375.6,365.7 L376.1,365.7 L376.6,365.7 L377.1,365.6 L377.6,365.5 L378.1,365.4 L378.6,365.2 L379.1,364.9 L379.6,364.6 L380.1,364.3 L380.6,364.0 L381.1,363.7 L381.6,363.5 L382.1,363.4 L382.6,363.4 L383.1,363.4 L383.6,363.5 L384.1,363.6 L384.6,363.7 L385.1,363.7 L385.6,363.7 L386.1,363.5 L386.6,363.3 L387.1,363.0 L387.6,362.6 L388.1,362.2 L388.6,361.6 L389.1,361.0 L389.6,360.4 L390.1,359.8 L390.6,359.1 L391.1,358.4 L391.6,357.7 L392.1,356.9 L392.6,356.2 L393.1,355.4 L393.6,354.6 L394.1,353.8 L394.6,352.9 L395.1,352.1 L395.6,351.2 L396.1,350.3 L396.6,349.3 L397.1,348.4 L397.6,347.4 L398.1,346.4 L398.6,345.3 L399.1,344.3 L399.6,343.2 L400.1,342.1 L400.6,340.9 L401.1,339.8 L401.6,338.6 L402.1,337.3 L402.6,336.1 L403.1,334.9 L403.6,333.6 L404.1,332.3 L404.6,331.1 L405.1,329.8 L405.6,328.6 L406.1,327.4 L406.6,326.2 L407.1,325.0 L407.6,323.9 L408.1,322.8 L408.6,321.7 L409.1,320.7 L409.6,319.8 L410.1,318.9 L410.6,318.0 L411.1,317.2 L411.6,316.4 L412.1,315.7 L412.6,315.1 L413.1,314.5 L413.6,313.9 L414.1,313.5 L414.6,313.0 L415.1,312.7 L415.6,312.4 L416.1,312.1 L416.6,312.0 L417.1,311.9 L417.6,311.9 L418.1,312.0 L418.6,312.3 L419.1,312.5 L419.6,312.8 L420.1,313.2 L420.6,313.6 L421.1,314.0 L421.6,314.4 L422.1,314.9 L422.6,315.3 L423.1,315.8 L423.6,316.3 L424.1,316.7 L424.6,317.1 L425.1,317.5 L425.6,317.9 L426.1,318.3 L426.6,318.6 L427.1,318.9 L427.6,319.2 L428.1,319.4 L428.6,319.6 L429.1,319.7 L429.6,319.7 L430.1,319.7 L430.6,319.7 L431.1,319.6 L431.6,319.4 L432.1,319.2 L432.6,318.9 L433.1,318.6 L433.6,318.3 L434.1,318.1 L434.6,317.8 L435.1,317.5 L435.6,317.2 L436.1,317.0 L436.6,316.8 L437.1,316.8 L437.6,317.0 L438.1,317.3 L438.6,317.9 L439.1,318.6 L439.6,319.3 L440.1,320.2 L440.6,321.1 L441.1,322.0 L441.6,322.9 L442.1,323.7 L442.6,324.6 L443.1,325.4 L443.6,326.3 L444.1,327.1 L444.6,327.9 L445.1,328.7 L445.6,329.5 L446.1,330.2 L446.6,330.9 L447.1,331.6 L447.6,332.3 L448.1,333.0 L448.6,333.6 L449.1,334.3 L449.6,334.9 L450.1,335.6 L450.6,336.2 L451.1,336.9 L451.6,337.5 L452.1,338.2 L452.6,338.9 L453.1,339.7 L453.6,340.5 L454.1,341.3 L454.6,342.1 L455.1,343.0 L455.6,343.9 L456.1,344.8 L456.6,345.8 L457.1,346.8 L457.6,347.9 L458.1,348.9 L458.6,349.9 L459.1,350.9 L459.6,351.8 L460.1,352.6 L460.6,353.4 L461.1,354.2 L461.6,354.9 L462.1,355.5 L462.6,356.1 L463.1,356.7 L463.6,357.3 L464.1,357.8 L464.6,358.4 L465.1,358.9 L465.6,359.5 L466.1,360.1 L466.6,360.6 L467.1,361.2 L467.6,361.8 L468.1,362.3 L468.6,362.9 L469.1,363.5 L469.6,364.0 L470.1,364.5 L470.6,365.1 L471.1,365.6 L471.6,366.1 L472.1,366.6 L472.6,367.1 L473.1,367.6 L473.6,368.1 L474.1,368.6 L474.6,369.0 L475.1,369.4 L475.6,369.8 L476.1,370.0 L476.6,370.3 L477.1,370.4 L477.6,370.5 L478.1,370.6 L478.6,370.6 L479.1,370.6 L479.6,370.6 L480.1,370.6 L480.6,370.5 L481.1,370.4 L481.6,370.4 L482.1,370.3 L482.6,370.2 L483.1,370.1 L483.6,369.9 L484.1,369.8 L484.6,369.7 L485.1,369.6 L485.6,369.5 L486.1,369.4 L486.6,369.4 L487.1,369.4 L487.6,369.5 L488.1,369.6 L488.6,369.8 L489.1,369.9 L489.6,370.2 L490.1,370.4 L490.6,370.7 L491.1,371.0 L491.6,371.3 L492.1,371.6 L492.6,371.9 L493.1,372.1 L493.6,372.3 L494.1,372.5 L494.6,372.7 L495.1,372.9 L495.6,373.0 L496.1,373.1 L496.6,373.2 L497.1,373.3 L497.6,373.3 L498.1,373.3 L498.6,373.3 L499.1,373.2 L499.6,373.2 L500.1,373.1 L500.6,373.0 L501.1,372.9 L501.6,372.8 L502.1,372.7 L502.6,372.6 L503.1,372.6 L503.6,372.5 L504.1,372.4 L504.6,372.4 L505.1,372.4 L505.6,372.4 L506.1,372.5 L506.6,372.6 L507.1,372.7 L507.6,372.8 L508.1,373.0 L508.6,373.2 L509.1,373.4 L509.6,373.6 L510.1,373.9 L510.6,374.1 L511.1,374.4 L511.6,374.6 L512.1,374.9 L512.6,375.1 L513.1,375.3 L513.6,375.5 L514.1,375.7 L514.6,375.8 L515.1,375.9 L515.6,376.0 L516.1,376.0 L516.6,376.0 L517.1,376.0 L517.6,375.9 L518.1,375.8 L518.6,375.7 L519.1,375.6 L519.6,375.4 L520.1,375.3 L520.6,375.1 L521.1,374.9 L521.6,374.7 L522.1,374.6 L522.6,374.4 L523.1,374.2 L523.6,374.1 L524.1,374.0 L524.6,373.9 L525.1,373.8 L525.6,373.7 L526.1,373.7 L526.6,373.7 L527.1,373.7 L527.6,373.7 L528.1,373.8 L528.6,373.8 L529.1,373.9 L529.6,374.0 L530.1,374.1 L530.6,374.2 L531.1,374.4 L531.6,374.5 L532.1,374.6 L532.6,374.7 L533.1,374.7 L533.6,374.8 L534.1,374.9 L534.6,374.9 L535.1,374.9 L535.6,375.0 L536.1,375.0 L536.6,375.0 L537.1,375.0 L537.6,375.0 L538.1,375.0 L538.6,375.0 L539.1,375.0 L539.6,375.0 L540.1,375.0 L540.6,375.0"/>
<path id="c80" d="M61.6,376.9 L62.1,376.9 L62.6,376.9 L63.1,376.8 L63.6,376.8 L64.1,376.7 L64.6,376.7 L65.1,376.6 L65.6,376.5 L66.1,376.4 L66.6,376.4 L67.1,376.3 L67.6,376.3 L68.1,376.2 L68.6,376.2 L69.1,376.2 L69.6,376.2 L70.1,376.2 L70.6,376.2 L71.1,376.3 L71.6,376.3 L72.1,376.4 L72.6,376.5 L73.1,376.5 L73.6,376.6 L74.1,376.7 L74.6,376.7 L75.1,376.7 L75.6,376.6 L76.1,376.5 L76.6,376.4 L77.1,376.3 L77.6,376.1 L78.1,376.0 L78.6,375.9 L79.1,375.8 L79.6,375.7 L80.1,375.6 L80.6,375.6 L81.1,375.5 L81.6,375.5 L82.1,375.5 L82.6,375.4 L83.1,375.4 L83.6,375.4 L84.1,375.4 L84.6,375.5 L85.1,375.5 L85.6,375.5 L86.1,375.6 L86.6,375.7 L87.1,375.7 L87.6,375.9 L88.1,376.0 L88.6,376.1 L89.1,376.2 L89.6,376.3 L90.1,376.4 L90.6,376.6 L91.1,376.6 L91.6,376.7 L92.1,376.8 L92.6,376.8 L93.1,376.9 L93.6,376.9 L94.1,376.9 L94.6,376.9 L95.1,376.9 L95.6,376.8 L96.1,376.8 L96.6,376.7 L97.1,376.6 L97.6,376.5 L98.1,376.4 L98.6,376.3 L99.1,376.2 L99.6,376.1 L100.1,375.9 L100.6,375.8 L101.1,375.7 L101.6,375.6 L102.1,375.5 L102.6,375.3 L103.1,375.2 L103.6,375.1 L104.1,375.0 L104.6,375.0 L105.1,374.9 L105.6,374.9 L106.1,374.8 L106.6,374.8 L107.1,374.8 L107.6,374.8 L108.1,374.8 L108.6,374.9 L109.1,374.9 L109.6,374.9 L110.1,374.9 L110.6,374.9 L111.1,374.9 L111.6,374.9 L112.1,374.9 L112.6,374.8 L113.1,374.8 L113.6,374.7 L114.1,374.6 L114.6,374.6 L115.1,374.5 L115.6,374.4 L116.1,374.3 L116.6,374.3 L117.1,374.2 L117.6,374.1 L118.1,374.1 L118.6,374.0 L119.1,374.0 L119.6,373.9 L120.1,373.9 L120.6,373.9 L121.1,373.9 L121.6,373.9 L122.1,373.9 L122.6,373.9 L123.1,374.0 L123.6,374.0 L124.1,374.0 L124.6,374.0 L125.1,374.1 L125.6,374.1 L126.1,374.1 L126.6,374.1 L127.1,374.0 L127.6,374.0 L128.1,374.0 L128.6,373.9 L129.1,373.8 L129.6,373.8 L130.1,373.7 L130.6,373.6 L131.1,373.5 L131.6,373.4 L132.1,373.3 L132.6,373.2 L133.1,373.1 L133.6,373.0 L134.1,373.0 L134.6,372.9 L135.1,372.8 L135.6,372.7 L136.1,372.7 L136.6,372.6 L137.1,372.6 L137.6,372.5 L138.1,372.5 L138.6,372.4 L139.1,372.4 L139.6,372.3 L140.1,372.2 L140.6,372.2 L141.1,372.1 L141.6,372.0 L142.1,371.9 L142.6,371.8 L143.1,371.7 L143.6,371.6 L144.1,371.4 L144.6,371.3 L145.1,371.1 L145.6,370.9 L146.1,370.8 L146.6,370.6 L147.1,370.4 L147.6,370.2 L148.1,369.9 L148.6,369.7 L149.1,369.5 L149.6,369.3 L150.1,369.0 L150.6,368.8 L151.1,368.5 L151.6,368.3 L152.1,368.0 L152.6,367.7 L153.1,367.4 L153.6,367.1 L154.1,366.8 L154.6,366.5 L155.1,366.2 L155.6,365.9 L156.1,365.5 L156.6,365.2 L157.1,364.9 L157.6,364.6 L158.1,364.2 L158.6,363.9 L159.1,363.6 L159.6,363.2 L160.1,362.9 L160.6,362.5 L161.1,362.1 L161.6,361.7 L162.1,361.3 L162.6,360.8 L163.1,360.3 L163.6,359.7 L164.1,359.1 L164.6,358.5 L165.1,357.8 L165.6,357.0 L166.1,356.1 L166.6,355.2 L167.1,354.3 L167.6,353.2 L168.1,352.1 L168.6,350.9 L169.1,349.7 L169.6,348.3 L170.1,346.9 L170.6,345.3 L171.1,343.7 L171.6,342.0 L172.1,340.2 L172.6,338.3 L173.1,336.2 L173.6,334.1 L174.1,331.9 L174.6,329.5 L175.1,327.1 L175.6,324.6 L176.1,321.9 L176.6,319.2 L177.1,316.3 L177.6,313.4 L178.1,310.4 L178.6,307.3 L179.1,304.2 L179.6,301.0 L180.1,297.7 L180.6,294.4 L181.1,291.1 L181.6,287.7 L182.1,284.3 L182.6,281.0 L183.1,277.6 L183.6,274.4 L184.1,271.1 L184.6,268.0 L185.1,265.0 L185.6,262.1 L186.1,259.3 L186.6,256.7 L187.1,254.3 L187.6,252.2 L188.1,250.2 L188.6,248.5 L189.1,247.1 L189.6,246.0 L190.1,245.2 L190.6,244.7 L191.1,244.5 L191.6,244.9 L192.1,245.9 L192.6,247.4 L193.1,249.4 L193.6,251.9 L194.1,254.7 L194.6,257.9 L195.1,261.3 L195.6,264.9 L196.1,268.5 L196.6,272.3 L197.1,276.0 L197.6,279.6 L198.1,283.2 L198.6,286.7 L199.1,290.1 L199.6,293.3 L200.1,296.5 L200.6,299.4 L201.1,302.2 L201.6,304.9 L202.1,307.4 L202.6,309.7 L203.1,311.8 L203.6,313.8 L204.1,315.7 L204.6,317.4 L205.1,318.9 L205.6,320.4 L206.1,321.7 L206.6,322.8 L207.1,323.9 L207.6,324.9 L208.1,325.7 L208.6,326.4 L209.1,327.1 L209.6,327.6 L210.1,328.0 L210.6,328.4 L211.1,328.6 L211.6,328.7 L212.1,328.7 L212.6,328.6 L213.1,328.4 L213.6,328.1 L214.1,327.6 L214.6,327.0 L215.1,326.2 L215.6,325.3 L216.1,324.2 L216.6,322.9 L217.1,321.4 L217.6,319.7 L218.1,317.8 L218.6,315.5 L219.1,313.0 L219.6,310.1 L220.1,307.0 L220.6,303.5 L221.1,299.6 L221.6,295.3 L222.1,290.5 L222.6,285.3 L223.1,279.5 L223.6,273.2 L224.1,266.3 L224.6,258.8 L225.1,250.6 L225.6,241.7 L226.1,232.2 L226.6,222.0 L227.1,211.1 L227.6,199.4 L228.1,187.2 L228.6,174.5 L229.1,161.2 L229.6,147.7 L230.1,134.0 L230.6,120.3 L231.1,106.8 L231.6,93.8 L232.1,81.5 L232.6,70.3 L233.1,60.5 L233.6,52.2 L234.1,45.8 L234.6,41.5 L235.1,39.5 L235.6,39.6 L236.1,40.6 L236.6,42.5 L237.1,45.2 L237.6,48.8 L238.1,53.0 L238.6,58.0 L239.1,63.6 L239.6,69.8 L240.1,76.5 L240.6,83.7 L241.1,91.3 L241.6,99.2 L242.1,107.3 L242.6,115.7 L243.1,124.2 L243.6,132.8 L244.1,141.5 L244.6,150.1 L245.1,158.8 L245.6,167.3 L246.1,175.8 L246.6,184.1 L247.1,192.2 L247.6,200.2 L248.1,208.0 L248.6,215.6 L249.1,222.9 L249.6,230.0 L250.1,236.9 L250.6,243.5 L251.1,249.9 L251.6,256.1 L252.1,261.9 L252.6,267.6 L253.1,273.0 L253.6,278.1 L254.1,283.0 L254.6,287.7 L255.1,292.1 L255.6,296.3 L256.1,300.3 L256.6,304.0 L257.1,307.6 L257.6,310.9 L258.1,314.1 L258.6,317.0 L259.1,319.8 L259.6,322.4 L260.1,324.9 L260.6,327.2 L261.1,329.3 L261.6,331.3 L262.1,333.2 L262.6,335.0 L263.1,336.6 L263.6,338.1 L264.1,339.6 L264.6,340.9 L265.1,342.1 L265.6,343.3 L266.1,344.4 L266.6,345.4 L267.1,346.4 L267.6,347.3 L268.1,348.1 L268.6,348.9 L269.1,349.6 L269.6,350.3 L270.1,351.0 L270.6,351.6 L271.1,352.2 L271.6,352.8 L272.1,353.3 L272.6,353.8 L273.1,354.3 L273.6,354.7 L274.1,355.1 L274.6,355.5 L275.1,355.9 L275.6,356.2 L276.1,356.5 L276.6,356.8 L277.1,357.1 L277.6,357.3 L278.1,357.5 L278.6,357.7 L279.1,357.9 L279.6,358.1 L280.1,358.2 L280.6,358.3 L281.1,358.5 L281.6,358.6 L282.1,358.7 L282.6,358.8 L283.1,358.9 L283.6,358.9 L284.1,359.0 L284.6,359.1 L285.1,359.1 L285.6,359.2 L286.1,359.2 L286.6,359.3 L287.1,359.3 L287.6,359.4 L288.1,359.4 L288.6,359.4 L289.1,359.5 L289.6,359.5 L290.1,359.6 L290.6,359.6 L291.1,359.6 L291.6,359.6 L292.1,359.6 L292.6,359.6 L293.1,359.6 L293.6,359.6 L294.1,359.6 L294.6,359.5 L295.1,359.5 L295.6,359.4 L296.1,359.3 L296.6,359.2 L297.1,359.0 L297.6,358.8 L298.1,358.6 L298.6,358.5 L299.1,358.3 L299.6,358.1 L300.1,357.9 L300.6,357.9 L301.1,357.9 L301.6,357.9 L302.1,358.0 L302.6,358.2 L303.1,358.3 L303.6,358.5 L304.1,358.6 L304.6,358.9 L305.1,359.2 L305.6,359.6 L306.1,359.9 L306.6,360.3 L307.1,360.5 L307.6,360.7 L308.1,360.7 L308.6,360.6 L309.1,360.5 L309.6,360.3 L310.1,360.2 L310.6,360.0 L311.1,359.9 L311.6,359.8 L312.1,359.7 L312.6,359.5 L313.1,359.4 L313.6,359.4 L314.1,359.4 L314.6,359.5 L315.1,359.7 L315.6,359.8 L316.1,360.0 L316.6,360.2 L317.1,360.3 L317.6,360.5 L318.1,360.6 L318.6,360.8 L319.1,360.9 L319.6,361.1 L320.1,361.3 L320.6,361.5 L321.1,361.7 L321.6,361.9 L322.1,362.1 L322.6,362.4 L323.1,362.6 L323.6,362.9 L324.1,363.3 L324.6,363.6 L325.1,364.0 L325.6,364.4 L326.1,364.7 L326.6,365.1 L327.1,365.4 L327.6,365.8 L328.1,366.1 L328.6,366.3 L329.1,366.6 L329.6,366.8 L330.1,367.1 L330.6,367.3 L331.1,367.5 L331.6,367.7 L332.1,367.9 L332.6,368.0 L333.1,368.2 L333.6,368.4 L334.1,368.5 L334.6,368.7 L335.1,368.9 L335.6,369.1 L336.1,369.3 L336.6,369.5 L337.1,369.7 L337.6,370.0 L338.1,370.3 L338.6,370.7 L339.1,371.0 L339.6,371.4 L340.1,371.8 L340.6,372.2 L341.1,372.5 L341.6,373.0 L342.1,373.4 L342.6,373.8 L343.1,374.2 L343.6,374.5 L344.1,374.7 L344.6,374.6 L345.1,374.3 L345.6,373.9 L346.1,373.5 L346.6,373.1 L347.1,372.7 L347.6,372.3 L348.1,372.0 L348.6,371.6 L349.1,371.3 L349.6,371.0 L350.1,370.7 L350.6,370.4 L351.1,370.1 L351.6,369.8 L352.1,369.6 L352.6,369.5 L353.1,369.4 L353.6,369.5 L354.1,369.7 L354.6,369.9 L355.1,370.1 L355.6,370.3 L356.1,370.5 L356.6,370.7 L357.1,370.9 L357.6,371.1 L358.1,371.3 L358.6,371.5 L359.1,371.6 L359.6,371.6 L360.1,371.6 L360.6,371.5 L361.1,371.4 L361.6,371.4 L362.1,371.3 L362.6,371.2 L363.1,371.1 L363.6,371.0 L364.1,371.0 L364.6,370.9 L365.1,370.9 L365.6,370.8 L366.1,370.7 L366.6,370.5 L367.1,370.4 L367.6,370.1 L368.1,369.9 L368.6,369.7 L369.1,369.5 L369.6,369.2 L370.1,369.0 L370.6,368.8 L371.1,368.6 L371.6,368.3 L372.1,368.1 L372.6,367.9 L373.1,367.6 L373.6,367.4 L374.1,367.2 L374.6,367.0 L375.1,366.8 L375.6,366.7 L376.1,366.7 L376.6,366.7 L377.1,366.8 L377.6,366.9 L378.1,367.0 L378.6,367.2 L379.1,367.3 L379.6,367.5 L380.1,367.7 L380.6,367.9 L381.1,368.0 L381.6,368.2 L382.1,368.3 L382.6,368.4 L383.1,368.4 L383.6,368.5 L384.1,368.5 L384.6,368.4 L385.1,368.3 L385.6,368.1 L386.1,367.8 L386.6,367.6 L387.1,367.2 L387.6,366.9 L388.1,366.5 L388.6,366.1 L389.1,365.8 L389.6,365.4 L390.1,365.0 L390.6,364.6 L391.1,364.2 L391.6,363.8 L392.1,363.5 L392.6,363.1 L393.1,362.7 L393.6,362.4 L394.1,362.0 L394.6,361.6 L395.1,361.3 L395.6,360.9 L396.1,360.5 L396.6,360.2 L397.1,359.8 L397.6,359.4 L398.1,359.0 L398.6,358.7 L399.1,358.3 L399.6,357.9 L400.1,357.5 L400.6,357.1 L401.1,356.7 L401.6,356.2 L402.1,355.8 L402.6,355.3 L403.1,354.8 L403.6,354.3 L404.1,353.8 L404.6,353.3 L405.1,352.9 L405.6,352.4 L406.1,351.9 L406.6,351.5 L407.1,351.0 L407.6,350.6 L408.1,350.2 L408.6,349.8 L409.1,349.4 L409.6,349.1 L410.1,348.7 L410.6,348.4 L411.1,348.1 L411.6,347.8 L412.1,347.5 L412.6,347.3 L413.1,347.0 L413.6,346.7 L414.1,346.5 L414.6,346.3 L415.1,346.0 L415.6,345.8 L416.1,345.6 L416.6,345.5 L417.1,345.4 L417.6,345.4 L418.1,345.4 L418.6,345.6 L419.1,345.7 L419.6,345.8 L420.1,346.0 L420.6,346.2 L421.1,346.4 L421.6,346.6 L422.1,346.8 L422.6,347.0 L423.1,347.2 L423.6,347.5 L424.1,347.7 L424.6,347.9 L425.1,348.2 L425.6,348.4 L426.1,348.7 L426.6,349.0 L427.1,349.3 L427.6,349.6 L428.1,349.8 L428.6,350.1 L429.1,350.3 L429.6,350.6 L430.1,350.8 L430.6,351.0 L431.1,351.1 L431.6,351.2 L432.1,351.2 L432.6,351.2 L433.1,351.1 L433.6,351.0 L434.1,351.0 L434.6,350.8 L435.1,350.5 L435.6,350.2 L436.1,349.9 L436.6,349.7 L437.1,349.5 L437.6,349.5 L438.1,349.6 L438.6,349.9 L439.1,350.3 L439.6,350.7 L440.1,351.2 L440.6,351.7 L441.1,352.1 L441.6,352.5 L442.1,352.9 L442.6,353.2 L443.1,353.5 L443.6,353.9 L444.1,354.2 L444.6,354.5 L445.1,354.8 L445.6,355.1 L446.1,355.5 L446.6,355.8 L447.1,356.1 L447.6,356.4 L448.1,356.7 L448.6,357.0 L449.1,357.3 L449.6,357.6 L450.1,357.8 L450.6,358.1 L451.1,358.4 L451.6,358.6 L452.1,358.9 L452.6,359.1 L453.1,359.4 L453.6,359.7 L454.1,359.9 L454.6,360.2 L455.1,360.5 L455.6,360.9 L456.1,361.3 L456.6,361.7 L457.1,362.2 L457.6,362.7 L458.1,363.3 L458.6,363.8 L459.1,364.3 L459.6,364.8 L460.1,365.2 L460.6,365.6 L461.1,365.9 L461.6,366.3 L462.1,366.6 L462.6,366.9 L463.1,367.2 L463.6,367.5 L464.1,367.9 L464.6,368.2 L465.1,368.6 L465.6,369.1 L466.1,369.6 L466.6,370.1 L467.1,370.6 L467.6,371.1 L468.1,371.7 L468.6,372.2 L469.1,372.8 L469.6,373.3 L470.1,373.8 L470.6,374.3 L471.1,374.7 L471.6,375.2 L472.1,375.6 L472.6,376.0 L473.1,376.5 L473.6,376.8 L474.1,377.2 L474.6,377.5 L475.1,377.7 L475.6,377.9 L476.1,377.9 L476.6,377.9 L477.1,377.8 L477.6,377.7 L478.1,377.5 L478.6,377.3 L479.1,377.1 L479.6,376.9 L480.1,376.7 L480.6,376.5 L481.1,376.3 L481.6,376.1 L482.1,376.0 L482.6,375.8 L483.1,375.7 L483.6,375.5 L484.1,375.3 L484.6,375.2 L485.1,375.0 L485.6,374.9 L486.1,374.7 L486.6,374.7 L487.1,374.6 L487.6,374.6 L488.1,374.6 L488.6,374.7 L489.1,374.9 L489.6,375.0 L490.1,375.2 L490.6,375.4 L491.1,375.6 L491.6,375.8 L492.1,376.0 L492.6,376.2 L493.1,376.4 L493.6,376.6 L494.1,376.7 L494.6,376.9 L495.1,377.1 L495.6,377.2 L496.1,377.4 L496.6,377.6 L497.1,377.8 L497.6,378.0 L498.1,378.1 L498.6,378.3 L499.1,378.5 L499.6,378.6 L500.1,378.7 L500.6,378.8 L501.1,378.9 L501.6,379.0 L502.1,379.0 L502.6,379.0 L503.1,379.0 L503.6,378.9 L504.1,378.8 L504.6,378.7 L505.1,378.6 L505.6,378.4 L506.1,378.3 L506.6,378.1 L507.1,378.0 L507.6,377.8 L508.1,377.7 L508.6,377.5 L509.1,377.4 L509.6,377.3 L510.1,377.2 L510.6,377.2 L511.1,377.1 L511.6,377.1 L512.1,377.1 L512.6,377.2 L513.1,377.2 L513.6,377.3 L514.1,377.4 L514.6,377.5 L515.1,377.6 L515.6,377.7 L516.1,377.9 L516.6,378.0 L517.1,378.1 L517.6,378.2 L518.1,378.3 L518.6,378.4 L519.1,378.4 L519.6,378.5 L520.1,378.5 L520.6,378.5 L521.1,378.5 L521.6,378.4 L522.1,378.4 L522.6,378.3 L523.1,378.2 L523.6,378.0 L524.1,377.9 L524.6,377.7 L525.1,377.6 L525.6,377.4 L526.1,377.2 L526.6,377.1 L527.1,377.0 L527.6,376.8 L528.1,376.7 L528.6,376.6 L529.1,376.5 L529.6,376.5 L530.1,376.5 L530.6,376.5 L531.1,376.4 L531.6,376.4 L532.1,376.4 L532.6,376.5 L533.1,376.5 L533.6,376.5 L534.1,376.5 L534.6,376.5 L535.1,376.5 L535.6,376.5 L536.1,376.4 L536.6,376.4 L537.1,376.4 L537.6,376.4 L538.1,376.4 L538.6,376.4 L539.1,376.4 L539.6,376.4 L540.1,376.4 L540.6,376.4"/>
</defs>
<g fill="none" stroke="#222" stroke-opacity="0.22" stroke-width="2.3" stroke-linejoin="round">
<use href="#c0"/>
<use href="#c10"/>
<use href="#c20"/>
<use href="#c30"/>
<use href="#c50"/>
<use href="#c80"/>
</g>
<g fill="none" stroke="#2c2c2c" stroke-width="1.0" stroke-linejoin="round">
<use href="#c0"/>
<use href="#c10"/>
<use href="#c20"/>
<use href="#c30"/>
<use href="#c50"/>
<use href="#c80"/>
</g>
<g fill="none" stroke="#1a1a1a" stroke-width="1.8">
<rect x="61.6" y="14.7" width="479.4" height="390.2"/>
<path d="M61.6,361.7h8.4 M61.6,318.3h4.6 M61.6,274.9h8.4 M61.6,231.6h4.6 M61.6,188.2h8.4 M61.6,144.8h4.6 M61.6,101.4h8.4 M61.6,58.1h4.6 M114.9,404.9v-4.4 M168.2,404.9v-7.9 M221.6,404.9v-4.4 M274.9,404.9v-7.9 M328.2,404.9v-4.4 M381.6,404.9v-7.9 M434.9,404.9v-4.4 M488.2,404.9v-7.9"/>
</g>
<g fill="none" stroke="#1a1a1a" stroke-width="1.5">
<path d="M238.2,49.6L268.3,49.6"/>
<path d="M238.3,110.7L268,110.7"/>
<path d="M238.8,190.5L268,190.5"/>
<path d="M240,243.5L268,243.5"/>
<path d="M241.6,307.7L269,307.7"/>
<path d="M272.8,331.2L241.7,375.5"/>
<path d="M439.2,182.4L470.8,182.4"/>
<path d="M439.9,221L470.8,221"/>
<path d="M440.5,254.9L470.8,254.9"/>
<path d="M442.4,282.8L470.8,282.8"/>
<path d="M442.4,320.2L470.8,320.2"/>
<path d="M443,353.7L487.9,344.2"/>
</g>
<g font-family="'Liberation Sans', Arial, sans-serif" font-size="14.65" fill="#262626" stroke="#262626" stroke-width="0.25">
<text x="54.0" y="365.3" text-anchor="end">0,0</text>
<text x="54.0" y="278.6" text-anchor="end">0,2</text>
<text x="54.0" y="191.8" text-anchor="end">0,4</text>
<text x="54.0" y="105.1" text-anchor="end">0,6</text>
<text x="54.0" y="18.3" text-anchor="end">0,8</text>
<text x="61.6" y="422.8" text-anchor="middle">1850</text>
<text x="168.2" y="422.8" text-anchor="middle">1800</text>
<text x="274.9" y="422.8" text-anchor="middle">1750</text>
<text x="381.6" y="422.8" text-anchor="middle">1700</text>
<text x="488.2" y="422.8" text-anchor="middle">1650</text>
<text x="268.9" y="54.8">80min</text>
<text x="268.9" y="115.8">50min</text>
<text x="268.9" y="195.7">30min</text>
<text x="268.9" y="248.7">20min</text>
<text x="269.6" y="312.9">10min</text>
<text x="277.0" y="336.4">0min</text>
<text x="472.3" y="187.8">0min</text>
<text x="473.4" y="226.2">10min</text>
<text x="472.9" y="260.1">20min</text>
<text x="472.9" y="288.0">30min</text>
<text x="472.9" y="325.4">50min</text>
<text x="489.8" y="349.4">80min</text>
</g>
<g font-family="'Liberation Sans', Arial, sans-serif" font-size="17.6" fill="#262626" stroke="#262626" stroke-width="0.25">
<text transform="translate(224.2,455.6) scale(1.052,1)" font-size="17.0">Wavenumber</text>
<text transform="translate(336.8,455.6) scale(1.04,1)" font-size="17.0">[cm</text>
<text x="364.9" y="446.1" font-size="10.4">-1</text>
<text x="374.5" y="455.6" font-size="17.0">]</text>
<text transform="translate(21.3,269.4) rotate(-90)" font-size="17.85">Absorbance</text>
</g>
</g>
</svg>
</body></html>
